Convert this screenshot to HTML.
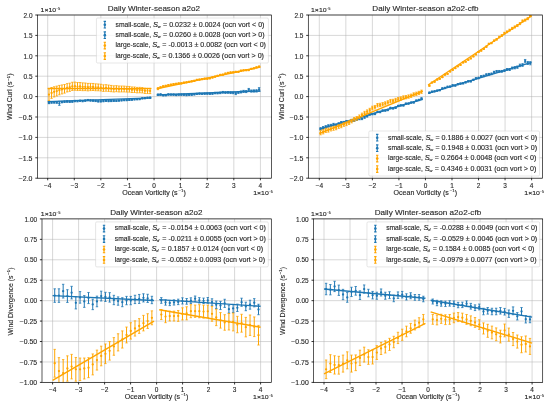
<!DOCTYPE html><html><head><meta charset="utf-8"><style>html,body{margin:0;padding:0;background:#fff;overflow:hidden}svg{display:block}text{font-family:"Liberation Sans", sans-serif;stroke:#262626;stroke-width:0.12;paint-order:stroke}</style></head><body>
<svg width="550" height="406" viewBox="0 0 550 406">
<defs><filter id="bl" x="0" y="0" width="1" height="1"><feGaussianBlur stdDeviation="0.35"/></filter></defs>
<rect width="550" height="406" fill="#fff"/>
<g filter="url(#bl)">
<clipPath id="c1"><rect x="37.4" y="15" width="234" height="163.2"/></clipPath>
<path d="M47.69 15V178.2M74.28 15V178.2M100.87 15V178.2M127.46 15V178.2M154.05 15V178.2M180.64 15V178.2M207.23 15V178.2M233.82 15V178.2M260.41 15V178.2M37.4 15H271.4M37.4 35.4H271.4M37.4 55.8H271.4M37.4 76.2H271.4M37.4 96.6H271.4M37.4 117H271.4M37.4 137.4H271.4M37.4 157.8H271.4M37.4 178.2H271.4" stroke="#b0b0b0" stroke-width="0.5" fill="none"/>
<g clip-path="url(#c1)">
<path d="M48.98 102.07V103.7M51.57 101.6V103.23M54.16 101.52V103.16M56.76 101.65V103.28M59.35 101.29V105.37M61.94 101.25V102.8M64.53 101V102.5M67.13 100.78V102.25M69.72 100.97V102.44M72.31 100.85V102.32M74.9 100.31V101.78M77.5 100.38V101.83M80.09 100.09V101.52M82.68 100.34V101.74M85.27 99.96V101.35M87.87 99.45V100.84M90.46 99.77V101.15M93.05 99.94V101.33M95.65 100.2V101.58M98.24 100.64V102M100.83 100.65V101.99M103.42 100.41V101.73M106.02 100.19V101.5M108.61 100.35V101.65M111.2 100.31V101.62M113.79 100.1V101.4M116.39 100.17V101.48M118.98 99.92V101.21M121.57 99.67V100.93M124.16 99.49V100.74M126.76 99.46V100.69M129.35 99.27V100.49M131.94 99.06V100.29M134.53 98.73V99.95M137.13 98.6V99.82M139.72 98.46V99.69M142.31 97.75V98.97M144.9 97.56V98.79M147.5 97.2V98.43M150.09 97.11V98.34" stroke="#1f77b4" stroke-width="1.0" fill="none"/>
<path d="M47.78 102.07H50.18M47.78 103.7H50.18M50.37 101.6H52.77M50.37 103.23H52.77M52.96 101.52H55.36M52.96 103.16H55.36M55.56 101.65H57.96M55.56 103.28H57.96M58.15 101.29H60.55M58.15 105.37H60.55M60.74 101.25H63.14M60.74 102.8H63.14M63.33 101H65.73M63.33 102.5H65.73M65.93 100.78H68.33M65.93 102.25H68.33M68.52 100.97H70.92M68.52 102.44H70.92M71.11 100.85H73.51M71.11 102.32H73.51M73.7 100.31H76.1M73.7 101.78H76.1M76.3 100.38H78.7M76.3 101.83H78.7M78.89 100.09H81.29M78.89 101.52H81.29M81.48 100.34H83.88M81.48 101.74H83.88M84.07 99.96H86.47M84.07 101.35H86.47M86.67 99.45H89.07M86.67 100.84H89.07M89.26 99.77H91.66M89.26 101.15H91.66M91.85 99.94H94.25M91.85 101.33H94.25M94.45 100.2H96.85M94.45 101.58H96.85M97.04 100.64H99.44M97.04 102H99.44M99.63 100.65H102.03M99.63 101.99H102.03M102.22 100.41H104.62M102.22 101.73H104.62M104.82 100.19H107.22M104.82 101.5H107.22M107.41 100.35H109.81M107.41 101.65H109.81M110 100.31H112.4M110 101.62H112.4M112.59 100.1H114.99M112.59 101.4H114.99M115.19 100.17H117.59M115.19 101.48H117.59M117.78 99.92H120.18M117.78 101.21H120.18M120.37 99.67H122.77M120.37 100.93H122.77M122.96 99.49H125.36M122.96 100.74H125.36M125.56 99.46H127.96M125.56 100.69H127.96M128.15 99.27H130.55M128.15 100.49H130.55M130.74 99.06H133.14M130.74 100.29H133.14M133.33 98.73H135.73M133.33 99.95H135.73M135.93 98.6H138.33M135.93 99.82H138.33M138.52 98.46H140.92M138.52 99.69H140.92M141.11 97.75H143.51M141.11 98.97H143.51M143.7 97.56H146.1M143.7 98.79H146.1M146.3 97.2H148.7M146.3 98.43H148.7M148.89 97.11H151.29M148.89 98.34H151.29" stroke="#1f77b4" stroke-width="0.8" fill="none"/>
<path d="M48.98 102.89h0M51.57 102.42h0M54.16 102.34h0M56.76 102.47h0M59.35 103.33h0M61.94 102.03h0M64.53 101.75h0M67.13 101.51h0M69.72 101.7h0M72.31 101.59h0M74.9 101.04h0M77.5 101.1h0M80.09 100.8h0M82.68 101.04h0M85.27 100.66h0M87.87 100.15h0M90.46 100.46h0M93.05 100.63h0M95.65 100.89h0M98.24 101.32h0M100.83 101.32h0M103.42 101.07h0M106.02 100.84h0M108.61 101h0M111.2 100.97h0M113.79 100.75h0M116.39 100.82h0M118.98 100.57h0M121.57 100.3h0M124.16 100.11h0M126.76 100.08h0M129.35 99.88h0M131.94 99.67h0M134.53 99.34h0M137.13 99.21h0M139.72 99.08h0M142.31 98.36h0M144.9 98.18h0M147.5 97.82h0M150.09 97.73h0" stroke="#1f77b4" stroke-width="2.3" stroke-linecap="round" fill="none"/>
<path d="M47.69 101.61L151.39 97.92" stroke="#1f77b4" stroke-width="1.4" fill="none"/>
<path d="M158.01 94.07V95.29M160.6 93.9V95.13M163.2 94.63V95.85M165.79 94.6V95.82M168.38 93.86V95.09M170.97 93.96V95.19M173.57 94.03V95.25M176.16 94.38V95.6M178.75 94.09V95.31M181.34 94.09V95.31M183.94 94.11V95.34M186.53 94.48V95.7M189.12 94.14V95.37M191.71 94.11V95.34M194.31 93.72V94.94M196.9 93.27V94.52M199.49 93.04V94.32M202.08 93.15V94.47M204.68 92.97V94.33M207.27 92.9V94.3M209.86 92.98V94.43M212.45 92.84V94.33M215.05 92.26V93.8M217.64 92.25V93.83M220.23 92.04V93.67M222.83 91.44V93.1M225.42 91.7V93.39M228.01 91.57V93.3M230.6 91.8V93.55M233.2 91.91V93.7M235.79 92.19V94.64M238.38 91.52V93.4M240.97 91.01V92.94M243.57 90.39V92.37M246.16 90.57V92.59M248.75 88.44V90.89M251.34 89.97V92.14M253.94 89.87V92.12M256.53 89.73V92.06M259.12 87.62V91.3" stroke="#1f77b4" stroke-width="1.0" fill="none"/>
<path d="M156.81 94.07H159.21M156.81 95.29H159.21M159.4 93.9H161.8M159.4 95.13H161.8M162 94.63H164.4M162 95.85H164.4M164.59 94.6H166.99M164.59 95.82H166.99M167.18 93.86H169.58M167.18 95.09H169.58M169.77 93.96H172.17M169.77 95.19H172.17M172.37 94.03H174.77M172.37 95.25H174.77M174.96 94.38H177.36M174.96 95.6H177.36M177.55 94.09H179.95M177.55 95.31H179.95M180.14 94.09H182.54M180.14 95.31H182.54M182.74 94.11H185.14M182.74 95.34H185.14M185.33 94.48H187.73M185.33 95.7H187.73M187.92 94.14H190.32M187.92 95.37H190.32M190.51 94.11H192.91M190.51 95.34H192.91M193.11 93.72H195.51M193.11 94.94H195.51M195.7 93.27H198.1M195.7 94.52H198.1M198.29 93.04H200.69M198.29 94.32H200.69M200.88 93.15H203.28M200.88 94.47H203.28M203.48 92.97H205.88M203.48 94.33H205.88M206.07 92.9H208.47M206.07 94.3H208.47M208.66 92.98H211.06M208.66 94.43H211.06M211.25 92.84H213.65M211.25 94.33H213.65M213.85 92.26H216.25M213.85 93.8H216.25M216.44 92.25H218.84M216.44 93.83H218.84M219.03 92.04H221.43M219.03 93.67H221.43M221.63 91.44H224.03M221.63 93.1H224.03M224.22 91.7H226.62M224.22 93.39H226.62M226.81 91.57H229.21M226.81 93.3H229.21M229.4 91.8H231.8M229.4 93.55H231.8M232 91.91H234.4M232 93.7H234.4M234.59 92.19H236.99M234.59 94.64H236.99M237.18 91.52H239.58M237.18 93.4H239.58M239.77 91.01H242.17M239.77 92.94H242.17M242.37 90.39H244.77M242.37 92.37H244.77M244.96 90.57H247.36M244.96 92.59H247.36M247.55 88.44H249.95M247.55 90.89H249.95M250.14 89.97H252.54M250.14 92.14H252.54M252.74 89.87H255.14M252.74 92.12H255.14M255.33 89.73H257.73M255.33 92.06H257.73M257.92 87.62H260.32M257.92 91.3H260.32" stroke="#1f77b4" stroke-width="0.8" fill="none"/>
<path d="M158.01 94.68h0M160.6 94.51h0M163.2 95.24h0M165.79 95.21h0M168.38 94.48h0M170.97 94.57h0M173.57 94.64h0M176.16 94.99h0M178.75 94.7h0M181.34 94.7h0M183.94 94.73h0M186.53 95.09h0M189.12 94.75h0M191.71 94.72h0M194.31 94.33h0M196.9 93.9h0M199.49 93.68h0M202.08 93.81h0M204.68 93.65h0M207.27 93.6h0M209.86 93.7h0M212.45 93.58h0M215.05 93.03h0M217.64 93.04h0M220.23 92.86h0M222.83 92.27h0M225.42 92.55h0M228.01 92.44h0M230.6 92.67h0M233.2 92.8h0M235.79 93.42h0M238.38 92.46h0M240.97 91.98h0M243.57 91.38h0M246.16 91.58h0M248.75 89.66h0M251.34 91.06h0M253.94 90.99h0M256.53 90.9h0M259.12 89.46h0" stroke="#1f77b4" stroke-width="2.3" stroke-linecap="round" fill="none"/>
<path d="M156.71 95.07L260.41 90.93" stroke="#1f77b4" stroke-width="1.4" fill="none"/>
<path d="M48.98 88.61V100.51M51.57 87.49V98.35M54.16 86.78V96.94M56.76 86.11V95.98M59.35 85.41V94.85M61.94 84.95V93.91M64.53 84.5V93.14M67.13 83.62V91.94M69.72 83.17V91.33M72.31 82.26V90.42M74.9 82.08V90.24M77.5 82.52V90.56M80.09 82.52V90.44M82.68 82.88V90.67M85.27 82.99V90.62M87.87 83.42V90.86M90.46 83.38V90.62M93.05 83.46V90.5M95.65 83.84V90.74M98.24 83.98V90.78M100.83 84.26V90.96M103.42 84.8V91.4M106.02 84.7V91.2M108.61 85.04V91.42M111.2 85.43V91.7M113.79 85.82V91.97M116.39 85.66V91.69M118.98 86V91.96M121.57 86.03V91.91M124.16 86.1V91.91M126.76 86.34V92.07M129.35 86.45V92.11M131.94 86.95V92.53M134.53 87V92.5M137.13 87.41V92.84M139.72 87.36V92.75M142.31 87.53V92.91M144.9 88.05V93.44M147.5 88.17V93.56M150.09 88.21V93.6" stroke="#ffa500" stroke-width="1.0" fill="none"/>
<path d="M47.78 88.61H50.18M47.78 100.51H50.18M50.37 87.49H52.77M50.37 98.35H52.77M52.96 86.78H55.36M52.96 96.94H55.36M55.56 86.11H57.96M55.56 95.98H57.96M58.15 85.41H60.55M58.15 94.85H60.55M60.74 84.95H63.14M60.74 93.91H63.14M63.33 84.5H65.73M63.33 93.14H65.73M65.93 83.62H68.33M65.93 91.94H68.33M68.52 83.17H70.92M68.52 91.33H70.92M71.11 82.26H73.51M71.11 90.42H73.51M73.7 82.08H76.1M73.7 90.24H76.1M76.3 82.52H78.7M76.3 90.56H78.7M78.89 82.52H81.29M78.89 90.44H81.29M81.48 82.88H83.88M81.48 90.67H83.88M84.07 82.99H86.47M84.07 90.62H86.47M86.67 83.42H89.07M86.67 90.86H89.07M89.26 83.38H91.66M89.26 90.62H91.66M91.85 83.46H94.25M91.85 90.5H94.25M94.45 83.84H96.85M94.45 90.74H96.85M97.04 83.98H99.44M97.04 90.78H99.44M99.63 84.26H102.03M99.63 90.96H102.03M102.22 84.8H104.62M102.22 91.4H104.62M104.82 84.7H107.22M104.82 91.2H107.22M107.41 85.04H109.81M107.41 91.42H109.81M110 85.43H112.4M110 91.7H112.4M112.59 85.82H114.99M112.59 91.97H114.99M115.19 85.66H117.59M115.19 91.69H117.59M117.78 86H120.18M117.78 91.96H120.18M120.37 86.03H122.77M120.37 91.91H122.77M122.96 86.1H125.36M122.96 91.91H125.36M125.56 86.34H127.96M125.56 92.07H127.96M128.15 86.45H130.55M128.15 92.11H130.55M130.74 86.95H133.14M130.74 92.53H133.14M133.33 87H135.73M133.33 92.5H135.73M135.93 87.41H138.33M135.93 92.84H138.33M138.52 87.36H140.92M138.52 92.75H140.92M141.11 87.53H143.51M141.11 92.91H143.51M143.7 88.05H146.1M143.7 93.44H146.1M146.3 88.17H148.7M146.3 93.56H148.7M148.89 88.21H151.29M148.89 93.6H151.29" stroke="#ffa500" stroke-width="0.8" fill="none"/>
<path d="M48.98 94.56h0M51.57 92.92h0M54.16 91.86h0M56.76 91.05h0M59.35 90.13h0M61.94 89.43h0M64.53 88.82h0M67.13 87.78h0M69.72 87.25h0M72.31 86.34h0M74.9 86.16h0M77.5 86.54h0M80.09 86.48h0M82.68 86.78h0M85.27 86.8h0M87.87 87.14h0M90.46 87h0M93.05 86.98h0M95.65 87.29h0M98.24 87.38h0M100.83 87.61h0M103.42 88.1h0M106.02 87.95h0M108.61 88.23h0M111.2 88.56h0M113.79 88.89h0M116.39 88.67h0M118.98 88.98h0M121.57 88.97h0M124.16 89.01h0M126.76 89.2h0M129.35 89.28h0M131.94 89.74h0M134.53 89.75h0M137.13 90.12h0M139.72 90.05h0M142.31 90.22h0M144.9 90.74h0M147.5 90.86h0M150.09 90.9h0" stroke="#ffa500" stroke-width="2.3" stroke-linecap="round" fill="none"/>
<path d="M47.69 88.43L151.39 88.64" stroke="#ffa500" stroke-width="1.4" fill="none"/>
<path d="M158.01 87.65V89.66M160.6 86.73V87.84M163.2 85.76V86.83M165.79 85.29V86.35M168.38 84.74V85.8M170.97 84.22V85.28M173.57 83.58V84.64M176.16 83.26V84.32M178.75 82.89V83.95M181.34 82.77V83.84M183.94 82.1V83.16M186.53 81.75V82.81M189.12 81.28V82.34M191.71 80.81V81.87M194.31 80.25V81.31M196.9 79.35V80.41M199.49 79.04V80.1M202.08 78.65V79.71M204.68 78.22V79.28M207.27 78.21V79.28M209.86 77.82V78.88M212.45 76.97V78.03M215.05 76.16V77.22M217.64 75.28V76.34M220.23 74.43V75.49M222.83 74.16V75.23M225.42 73.09V74.15M228.01 72.39V73.45M230.6 71.96V73.02M233.2 71.76V72.82M235.79 71.34V72.4M238.38 71.29V72.35M240.97 70.2V71.26M243.57 69.75V70.81M246.16 69.68V70.74M248.75 69.55V70.61M251.34 68.35V69.45M253.94 67.78V68.92M256.53 66.8V67.94M259.12 66.04V67.18" stroke="#ffa500" stroke-width="1.0" fill="none"/>
<path d="M156.81 87.65H159.21M156.81 89.66H159.21M159.4 86.73H161.8M159.4 87.84H161.8M162 85.76H164.4M162 86.83H164.4M164.59 85.29H166.99M164.59 86.35H166.99M167.18 84.74H169.58M167.18 85.8H169.58M169.77 84.22H172.17M169.77 85.28H172.17M172.37 83.58H174.77M172.37 84.64H174.77M174.96 83.26H177.36M174.96 84.32H177.36M177.55 82.89H179.95M177.55 83.95H179.95M180.14 82.77H182.54M180.14 83.84H182.54M182.74 82.1H185.14M182.74 83.16H185.14M185.33 81.75H187.73M185.33 82.81H187.73M187.92 81.28H190.32M187.92 82.34H190.32M190.51 80.81H192.91M190.51 81.87H192.91M193.11 80.25H195.51M193.11 81.31H195.51M195.7 79.35H198.1M195.7 80.41H198.1M198.29 79.04H200.69M198.29 80.1H200.69M200.88 78.65H203.28M200.88 79.71H203.28M203.48 78.22H205.88M203.48 79.28H205.88M206.07 78.21H208.47M206.07 79.28H208.47M208.66 77.82H211.06M208.66 78.88H211.06M211.25 76.97H213.65M211.25 78.03H213.65M213.85 76.16H216.25M213.85 77.22H216.25M216.44 75.28H218.84M216.44 76.34H218.84M219.03 74.43H221.43M219.03 75.49H221.43M221.63 74.16H224.03M221.63 75.23H224.03M224.22 73.09H226.62M224.22 74.15H226.62M226.81 72.39H229.21M226.81 73.45H229.21M229.4 71.96H231.8M229.4 73.02H231.8M232 71.76H234.4M232 72.82H234.4M234.59 71.34H236.99M234.59 72.4H236.99M237.18 71.29H239.58M237.18 72.35H239.58M239.77 70.2H242.17M239.77 71.26H242.17M242.37 69.75H244.77M242.37 70.81H244.77M244.96 69.68H247.36M244.96 70.74H247.36M247.55 69.55H249.95M247.55 70.61H249.95M250.14 68.35H252.54M250.14 69.45H252.54M252.74 67.78H255.14M252.74 68.92H255.14M255.33 66.8H257.73M255.33 67.94H257.73M257.92 66.04H260.32M257.92 67.18H260.32" stroke="#ffa500" stroke-width="0.8" fill="none"/>
<path d="M158.01 88.65h0M160.6 87.29h0M163.2 86.29h0M165.79 85.82h0M168.38 85.27h0M170.97 84.75h0M173.57 84.11h0M176.16 83.79h0M178.75 83.42h0M181.34 83.31h0M183.94 82.63h0M186.53 82.28h0M189.12 81.81h0M191.71 81.34h0M194.31 80.78h0M196.9 79.88h0M199.49 79.57h0M202.08 79.18h0M204.68 78.75h0M207.27 78.75h0M209.86 78.35h0M212.45 77.5h0M215.05 76.69h0M217.64 75.81h0M220.23 74.96h0M222.83 74.7h0M225.42 73.62h0M228.01 72.92h0M230.6 72.49h0M233.2 72.29h0M235.79 71.87h0M238.38 71.82h0M240.97 70.73h0M243.57 70.28h0M246.16 70.21h0M248.75 70.08h0M251.34 68.9h0M253.94 68.35h0M256.53 67.37h0M259.12 66.61h0" stroke="#ffa500" stroke-width="2.3" stroke-linecap="round" fill="none"/>
<path d="M156.71 88.7L260.41 66.96" stroke="#ffa500" stroke-width="1.4" fill="none"/>
</g>
<rect x="37.4" y="15" width="234" height="163.2" fill="none" stroke="#000" stroke-width="0.65"/>
<path d="M47.69 178.2v2.1M74.28 178.2v2.1M100.87 178.2v2.1M127.46 178.2v2.1M154.05 178.2v2.1M180.64 178.2v2.1M207.23 178.2v2.1M233.82 178.2v2.1M260.41 178.2v2.1M37.4 15h-2.1M37.4 35.4h-2.1M37.4 55.8h-2.1M37.4 76.2h-2.1M37.4 96.6h-2.1M37.4 117h-2.1M37.4 137.4h-2.1M37.4 157.8h-2.1M37.4 178.2h-2.1" stroke="#000" stroke-width="0.8" fill="none"/>
<text x="47.79" y="188.2" font-size="6.6" text-anchor="middle" fill="#262626" textLength="7.51" lengthAdjust="spacingAndGlyphs" >−4</text>
<text x="74.38" y="188.2" font-size="6.6" text-anchor="middle" fill="#262626" textLength="7.51" lengthAdjust="spacingAndGlyphs" >−3</text>
<text x="100.97" y="188.2" font-size="6.6" text-anchor="middle" fill="#262626" textLength="7.51" lengthAdjust="spacingAndGlyphs" >−2</text>
<text x="127.56" y="188.2" font-size="6.6" text-anchor="middle" fill="#262626" textLength="7.51" lengthAdjust="spacingAndGlyphs" >−1</text>
<text x="154.05" y="188.2" font-size="6.6" text-anchor="middle" fill="#262626" textLength="3.6" lengthAdjust="spacingAndGlyphs" >0</text>
<text x="180.64" y="188.2" font-size="6.6" text-anchor="middle" fill="#262626" textLength="3.6" lengthAdjust="spacingAndGlyphs" >1</text>
<text x="207.23" y="188.2" font-size="6.6" text-anchor="middle" fill="#262626" textLength="3.6" lengthAdjust="spacingAndGlyphs" >2</text>
<text x="233.82" y="188.2" font-size="6.6" text-anchor="middle" fill="#262626" textLength="3.6" lengthAdjust="spacingAndGlyphs" >3</text>
<text x="260.41" y="188.2" font-size="6.6" text-anchor="middle" fill="#262626" textLength="3.6" lengthAdjust="spacingAndGlyphs" >4</text>
<text x="32.5" y="17.7" font-size="6.6" text-anchor="end" fill="#262626" textLength="9" lengthAdjust="spacingAndGlyphs" >2.0</text>
<text x="32.5" y="38.1" font-size="6.6" text-anchor="end" fill="#262626" textLength="9" lengthAdjust="spacingAndGlyphs" >1.5</text>
<text x="32.5" y="58.5" font-size="6.6" text-anchor="end" fill="#262626" textLength="9" lengthAdjust="spacingAndGlyphs" >1.0</text>
<text x="32.5" y="78.9" font-size="6.6" text-anchor="end" fill="#262626" textLength="9" lengthAdjust="spacingAndGlyphs" >0.5</text>
<text x="32.5" y="99.3" font-size="6.6" text-anchor="end" fill="#262626" textLength="9" lengthAdjust="spacingAndGlyphs" >0.0</text>
<text x="32.5" y="119.7" font-size="6.6" text-anchor="end" fill="#262626" textLength="13.75" lengthAdjust="spacingAndGlyphs" >−0.5</text>
<text x="32.5" y="140.1" font-size="6.6" text-anchor="end" fill="#262626" textLength="13.75" lengthAdjust="spacingAndGlyphs" >−1.0</text>
<text x="32.5" y="160.5" font-size="6.6" text-anchor="end" fill="#262626" textLength="13.75" lengthAdjust="spacingAndGlyphs" >−1.5</text>
<text x="32.5" y="180.9" font-size="6.6" text-anchor="end" fill="#262626" textLength="13.75" lengthAdjust="spacingAndGlyphs" >−2.0</text>
<text x="40.6" y="12" font-size="6.0" text-anchor="start" fill="#262626" textLength="19.5" lengthAdjust="spacingAndGlyphs" >1×10<tspan font-size="50%" dy="-2.3">−5</tspan></text>
<text x="272.7" y="195.2" font-size="6.0" text-anchor="end" fill="#262626" textLength="19.5" lengthAdjust="spacingAndGlyphs" >1×10<tspan font-size="50%" dy="-2.3">−5</tspan></text>
<text x="153.9" y="11" font-size="7.6" text-anchor="middle" fill="#262626" textLength="92.3" lengthAdjust="spacingAndGlyphs" >Daily Winter-season a2o2</text>
<text x="154" y="194.7" font-size="6.8" text-anchor="middle" fill="#262626" textLength="63.5" lengthAdjust="spacingAndGlyphs" >Ocean Vorticity (s<tspan font-size="62%" dy="-2.8"> −1</tspan><tspan dy="2.8">)</tspan></text>
<text x="12.3" y="96.8" font-size="6.8" text-anchor="middle" fill="#262626" textLength="46.6" lengthAdjust="spacingAndGlyphs" transform="rotate(-90 12.3 96.8)" >Wind Curl (s<tspan font-size="62%" dy="-2.8"> −1</tspan><tspan dy="2.8">)</tspan></text>
<rect x="96.42" y="18" width="171.98" height="45" rx="1.2" fill="#fff" fill-opacity="0.8" stroke="#cccccc" stroke-width="0.5"/>
<path d="M104.82 21.4V28M103.62 21.4H106.02M103.62 28H106.02" stroke="#1f77b4" stroke-width="1.1" fill="none"/>
<circle cx="104.82" cy="24.7" r="1.3" fill="#1f77b4"/>
<text x="115.62" y="26.5" font-size="6.5" text-anchor="start" fill="#262626" textLength="35.51" lengthAdjust="spacingAndGlyphs" >small-scale,</text>
<text x="153.02" y="26.5" font-size="6.5" fill="#262626" font-style="italic" textLength="5.04" lengthAdjust="spacingAndGlyphs">S</text>
<text x="157.74" y="27.5" font-size="4.03" fill="#262626" font-style="italic">w</text>
<text x="163.05" y="26.5" font-size="6.5" text-anchor="start" fill="#262626" textLength="101.43" lengthAdjust="spacingAndGlyphs" >= 0.0232 ± 0.0024 (ocn vort &lt; 0)</text>
<path d="M104.82 31.85V38.45M103.62 31.85H106.02M103.62 38.45H106.02" stroke="#1f77b4" stroke-width="1.1" fill="none"/>
<circle cx="104.82" cy="35.15" r="1.3" fill="#1f77b4"/>
<text x="115.62" y="36.95" font-size="6.5" text-anchor="start" fill="#262626" textLength="35.51" lengthAdjust="spacingAndGlyphs" >small-scale,</text>
<text x="153.02" y="36.95" font-size="6.5" fill="#262626" font-style="italic" textLength="5.04" lengthAdjust="spacingAndGlyphs">S</text>
<text x="157.74" y="37.95" font-size="4.03" fill="#262626" font-style="italic">w</text>
<text x="163.05" y="36.95" font-size="6.5" text-anchor="start" fill="#262626" textLength="101.54" lengthAdjust="spacingAndGlyphs" >= 0.0260 ± 0.0028 (ocn vort &gt; 0)</text>
<path d="M104.82 42.3V48.9M103.62 42.3H106.02M103.62 48.9H106.02" stroke="#ffa500" stroke-width="1.1" fill="none"/>
<circle cx="104.82" cy="45.6" r="1.3" fill="#ffa500"/>
<text x="115.62" y="47.4" font-size="6.5" text-anchor="start" fill="#262626" textLength="34.8" lengthAdjust="spacingAndGlyphs" >large-scale,</text>
<text x="152.32" y="47.4" font-size="6.5" fill="#262626" font-style="italic" textLength="5.04" lengthAdjust="spacingAndGlyphs">S</text>
<text x="157.04" y="48.4" font-size="4.03" fill="#262626" font-style="italic">w</text>
<text x="162.35" y="47.4" font-size="6.5" text-anchor="start" fill="#262626" textLength="103.65" lengthAdjust="spacingAndGlyphs" >= -0.0013 ± 0.0082 (ocn vort &lt; 0)</text>
<path d="M104.82 52.75V59.35M103.62 52.75H106.02M103.62 59.35H106.02" stroke="#ffa500" stroke-width="1.1" fill="none"/>
<circle cx="104.82" cy="56.05" r="1.3" fill="#ffa500"/>
<text x="115.62" y="57.85" font-size="6.5" text-anchor="start" fill="#262626" textLength="34.8" lengthAdjust="spacingAndGlyphs" >large-scale,</text>
<text x="152.32" y="57.85" font-size="6.5" fill="#262626" font-style="italic" textLength="5.04" lengthAdjust="spacingAndGlyphs">S</text>
<text x="157.04" y="58.85" font-size="4.03" fill="#262626" font-style="italic">w</text>
<text x="162.35" y="57.85" font-size="6.5" text-anchor="start" fill="#262626" textLength="101.65" lengthAdjust="spacingAndGlyphs" >= 0.1366 ± 0.0026 (ocn vort &gt; 0)</text>
<clipPath id="c2"><rect x="308.3" y="15" width="234.2" height="163.2"/></clipPath>
<path d="M319.29 15V178.2M345.83 15V178.2M372.37 15V178.2M398.91 15V178.2M425.45 15V178.2M451.99 15V178.2M478.53 15V178.2M505.07 15V178.2M531.61 15V178.2M308.3 15H542.5M308.3 35.4H542.5M308.3 55.8H542.5M308.3 76.2H542.5M308.3 96.6H542.5M308.3 117H542.5M308.3 137.4H542.5M308.3 157.8H542.5M308.3 178.2H542.5" stroke="#b0b0b0" stroke-width="0.5" fill="none"/>
<g clip-path="url(#c2)">
<path d="M320.58 127.58V130.03M323.16 126.54V128.99M325.75 125.6V128.05M328.34 124.71V126.98M330.93 124.34V126.42M333.52 123.38V125.33M336.1 123.99V125.83M338.69 122.76V124.5M341.28 121.52V123.2M343.87 121.41V123.04M346.45 120.47V122.1M349.04 121.06V122.69M351.63 119.97V121.6M354.22 119.73V121.36M356.8 118.72V120.35M359.39 118.11V119.74M361.98 118.01V119.64M364.57 116.67V118.25M367.15 115.48V116.99M369.74 113.71V115.18M372.33 113.33V114.8M374.92 113.24V114.68M377.51 111.12V112.5M380.09 111.34V112.69M382.68 109.89V111.2M385.27 109.88V111.19M387.86 109.35V110.66M390.44 107.37V108.67M393.03 107.75V109.02M395.62 107.14V108.38M398.21 105.34V106.57M400.79 104.74V105.96M403.38 104.83V106.05M405.97 103.08V104.3M408.56 102.93V104.16M411.14 101.96V103.19M413.73 101.86V103.08M416.32 99.98V101.21M418.91 99.4V100.62M421.5 97.91V99.13" stroke="#1f77b4" stroke-width="1.0" fill="none"/>
<path d="M319.38 127.58H321.78M319.38 130.03H321.78M321.96 126.54H324.36M321.96 128.99H324.36M324.55 125.6H326.95M324.55 128.05H326.95M327.14 124.71H329.54M327.14 126.98H329.54M329.73 124.34H332.13M329.73 126.42H332.13M332.32 123.38H334.72M332.32 125.33H334.72M334.9 123.99H337.3M334.9 125.83H337.3M337.49 122.76H339.89M337.49 124.5H339.89M340.08 121.52H342.48M340.08 123.2H342.48M342.67 121.41H345.07M342.67 123.04H345.07M345.25 120.47H347.65M345.25 122.1H347.65M347.84 121.06H350.24M347.84 122.69H350.24M350.43 119.97H352.83M350.43 121.6H352.83M353.02 119.73H355.42M353.02 121.36H355.42M355.6 118.72H358M355.6 120.35H358M358.19 118.11H360.59M358.19 119.74H360.59M360.78 118.01H363.18M360.78 119.64H363.18M363.37 116.67H365.77M363.37 118.25H365.77M365.95 115.48H368.35M365.95 116.99H368.35M368.54 113.71H370.94M368.54 115.18H370.94M371.13 113.33H373.53M371.13 114.8H373.53M373.72 113.24H376.12M373.72 114.68H376.12M376.31 111.12H378.71M376.31 112.5H378.71M378.89 111.34H381.29M378.89 112.69H381.29M381.48 109.89H383.88M381.48 111.2H383.88M384.07 109.88H386.47M384.07 111.19H386.47M386.66 109.35H389.06M386.66 110.66H389.06M389.24 107.37H391.64M389.24 108.67H391.64M391.83 107.75H394.23M391.83 109.02H394.23M394.42 107.14H396.82M394.42 108.38H396.82M397.01 105.34H399.41M397.01 106.57H399.41M399.59 104.74H401.99M399.59 105.96H401.99M402.18 104.83H404.58M402.18 106.05H404.58M404.77 103.08H407.17M404.77 104.3H407.17M407.36 102.93H409.76M407.36 104.16H409.76M409.94 101.96H412.34M409.94 103.19H412.34M412.53 101.86H414.93M412.53 103.08H414.93M415.12 99.98H417.52M415.12 101.21H417.52M417.71 99.4H420.11M417.71 100.62H420.11M420.3 97.91H422.7M420.3 99.13H422.7" stroke="#1f77b4" stroke-width="0.8" fill="none"/>
<path d="M320.58 128.81h0M323.16 127.77h0M325.75 126.82h0M328.34 125.84h0M330.93 125.38h0M333.52 124.36h0M336.1 124.91h0M338.69 123.63h0M341.28 122.36h0M343.87 122.23h0M346.45 121.29h0M349.04 121.88h0M351.63 120.78h0M354.22 120.54h0M356.8 119.54h0M359.39 118.92h0M361.98 118.83h0M364.57 117.46h0M367.15 116.23h0M369.74 114.44h0M372.33 114.07h0M374.92 113.96h0M377.51 111.81h0M380.09 112.01h0M382.68 110.55h0M385.27 110.54h0M387.86 110h0M390.44 108.02h0M393.03 108.38h0M395.62 107.76h0M398.21 105.95h0M400.79 105.35h0M403.38 105.44h0M405.97 103.69h0M408.56 103.55h0M411.14 102.57h0M413.73 102.47h0M416.32 100.6h0M418.91 100.01h0M421.5 98.52h0" stroke="#1f77b4" stroke-width="2.3" stroke-linecap="round" fill="none"/>
<path d="M319.29 129.26L422.8 99.25" stroke="#1f77b4" stroke-width="1.4" fill="none"/>
<path d="M429.4 92.13V93.35M431.99 91.16V92.38M434.58 90.7V91.92M437.17 90.05V91.27M439.76 89.57V90.8M442.34 87.85V89.07M444.93 87.38V88.61M447.52 86.17V87.42M450.11 85.94V87.22M452.69 84.64V85.94M455.28 84.85V86.15M457.87 83.55V84.86M460.46 82.97V84.29M463.04 82.64V83.99M465.63 81.66V83.05M468.22 80.67V82.06M470.81 80.61V81.99M473.39 79.15V80.55M475.98 77.62V79.05M478.57 77.25V78.72M481.16 75.71V77.18M483.75 75.23V76.7M486.33 73.85V75.4M488.92 73.42V75.05M491.51 73.03V74.66M494.1 71.25V72.88M496.68 70.49V72.13M499.27 70.47V72.15M501.86 70.45V72.18M504.45 69.76V71.54M507.03 68.58V70.43M509.62 68.55V70.48M512.21 67.04V69.05M514.8 66.69V68.82M517.38 66V68.31M519.97 64.14V66.63M522.56 63.67V66.34M525.15 59.47V62.74M527.74 61.47V64.51M530.32 61.58V64.81" stroke="#1f77b4" stroke-width="1.0" fill="none"/>
<path d="M428.2 92.13H430.6M428.2 93.35H430.6M430.79 91.16H433.19M430.79 92.38H433.19M433.38 90.7H435.78M433.38 91.92H435.78M435.97 90.05H438.37M435.97 91.27H438.37M438.56 89.57H440.96M438.56 90.8H440.96M441.14 87.85H443.54M441.14 89.07H443.54M443.73 87.38H446.13M443.73 88.61H446.13M446.32 86.17H448.72M446.32 87.42H448.72M448.91 85.94H451.31M448.91 87.22H451.31M451.49 84.64H453.89M451.49 85.94H453.89M454.08 84.85H456.48M454.08 86.15H456.48M456.67 83.55H459.07M456.67 84.86H459.07M459.26 82.97H461.66M459.26 84.29H461.66M461.84 82.64H464.24M461.84 83.99H464.24M464.43 81.66H466.83M464.43 83.05H466.83M467.02 80.67H469.42M467.02 82.06H469.42M469.61 80.61H472.01M469.61 81.99H472.01M472.19 79.15H474.59M472.19 80.55H474.59M474.78 77.62H477.18M474.78 79.05H477.18M477.37 77.25H479.77M477.37 78.72H479.77M479.96 75.71H482.36M479.96 77.18H482.36M482.55 75.23H484.95M482.55 76.7H484.95M485.13 73.85H487.53M485.13 75.4H487.53M487.72 73.42H490.12M487.72 75.05H490.12M490.31 73.03H492.71M490.31 74.66H492.71M492.9 71.25H495.3M492.9 72.88H495.3M495.48 70.49H497.88M495.48 72.13H497.88M498.07 70.47H500.47M498.07 72.15H500.47M500.66 70.45H503.06M500.66 72.18H503.06M503.25 69.76H505.65M503.25 71.54H505.65M505.83 68.58H508.23M505.83 70.43H508.23M508.42 68.55H510.82M508.42 70.48H510.82M511.01 67.04H513.41M511.01 69.05H513.41M513.6 66.69H516M513.6 68.82H516M516.18 66H518.58M516.18 68.31H518.58M518.77 64.14H521.17M518.77 66.63H521.17M521.36 63.67H523.76M521.36 66.34H523.76M523.95 59.47H526.35M523.95 62.74H526.35M526.54 61.47H528.94M526.54 64.51H528.94M529.12 61.58H531.52M529.12 64.81H531.52" stroke="#1f77b4" stroke-width="0.8" fill="none"/>
<path d="M429.4 92.74h0M431.99 91.77h0M434.58 91.31h0M437.17 90.66h0M439.76 90.18h0M442.34 88.46h0M444.93 87.99h0M447.52 86.79h0M450.11 86.58h0M452.69 85.29h0M455.28 85.5h0M457.87 84.2h0M460.46 83.63h0M463.04 83.32h0M465.63 82.35h0M468.22 81.36h0M470.81 81.3h0M473.39 79.85h0M475.98 78.34h0M478.57 77.99h0M481.16 76.45h0M483.75 75.96h0M486.33 74.63h0M488.92 74.24h0M491.51 73.85h0M494.1 72.06h0M496.68 71.31h0M499.27 71.31h0M501.86 71.31h0M504.45 70.65h0M507.03 69.5h0M509.62 69.51h0M512.21 68.05h0M514.8 67.76h0M517.38 67.15h0M519.97 65.39h0M522.56 65.01h0M525.15 61.1h0M527.74 62.99h0M530.32 63.19h0" stroke="#1f77b4" stroke-width="2.3" stroke-linecap="round" fill="none"/>
<path d="M428.1 93.36L531.61 62.36" stroke="#1f77b4" stroke-width="1.4" fill="none"/>
<path d="M320.58 130.35V134.79M323.16 129.63V133.9M325.75 128.36V132.45M328.34 128.1V132.11M330.93 127V130.94M333.52 126.42V130.28M336.1 125.95V129.74M338.69 124.68V128.41M341.28 124.04V127.73M343.87 122.68V126.35M346.45 121.94V125.61M349.04 120.79V124.46M351.63 119.19V122.86M354.22 117.5V121.18M356.8 116.56V120.23M359.39 114.97V118.64M361.98 113.12V116.79M364.57 111.34V115.02M367.15 109.91V113.59M369.74 108.3V111.97M372.33 106.26V109.84M374.92 105.46V108.95M377.51 103.52V106.93M380.09 103.25V106.6M382.68 102.64V105.92M385.27 101.81V105.07M387.86 100.74V104.01M390.44 99.45V102.71M393.03 99.31V102.57M395.62 98.33V101.59M398.21 97.53V100.79M400.79 96.87V100.13M403.38 95.86V99.12M405.97 95.56V98.82M408.56 94.92V98.18M411.14 94.13V97.39M413.73 92.85V96.11M416.32 92.17V95.43M418.91 91.32V94.59M421.5 90.13V93.39" stroke="#ffa500" stroke-width="1.0" fill="none"/>
<path d="M319.38 130.35H321.78M319.38 134.79H321.78M321.96 129.63H324.36M321.96 133.9H324.36M324.55 128.36H326.95M324.55 132.45H326.95M327.14 128.1H329.54M327.14 132.11H329.54M329.73 127H332.13M329.73 130.94H332.13M332.32 126.42H334.72M332.32 130.28H334.72M334.9 125.95H337.3M334.9 129.74H337.3M337.49 124.68H339.89M337.49 128.41H339.89M340.08 124.04H342.48M340.08 127.73H342.48M342.67 122.68H345.07M342.67 126.35H345.07M345.25 121.94H347.65M345.25 125.61H347.65M347.84 120.79H350.24M347.84 124.46H350.24M350.43 119.19H352.83M350.43 122.86H352.83M353.02 117.5H355.42M353.02 121.18H355.42M355.6 116.56H358M355.6 120.23H358M358.19 114.97H360.59M358.19 118.64H360.59M360.78 113.12H363.18M360.78 116.79H363.18M363.37 111.34H365.77M363.37 115.02H365.77M365.95 109.91H368.35M365.95 113.59H368.35M368.54 108.3H370.94M368.54 111.97H370.94M371.13 106.26H373.53M371.13 109.84H373.53M373.72 105.46H376.12M373.72 108.95H376.12M376.31 103.52H378.71M376.31 106.93H378.71M378.89 103.25H381.29M378.89 106.6H381.29M381.48 102.64H383.88M381.48 105.92H383.88M384.07 101.81H386.47M384.07 105.07H386.47M386.66 100.74H389.06M386.66 104.01H389.06M389.24 99.45H391.64M389.24 102.71H391.64M391.83 99.31H394.23M391.83 102.57H394.23M394.42 98.33H396.82M394.42 101.59H396.82M397.01 97.53H399.41M397.01 100.79H399.41M399.59 96.87H401.99M399.59 100.13H401.99M402.18 95.86H404.58M402.18 99.12H404.58M404.77 95.56H407.17M404.77 98.82H407.17M407.36 94.92H409.76M407.36 98.18H409.76M409.94 94.13H412.34M409.94 97.39H412.34M412.53 92.85H414.93M412.53 96.11H414.93M415.12 92.17H417.52M415.12 95.43H417.52M417.71 91.32H420.11M417.71 94.59H420.11M420.3 90.13H422.7M420.3 93.39H422.7" stroke="#ffa500" stroke-width="0.8" fill="none"/>
<path d="M320.58 132.57h0M323.16 131.76h0M325.75 130.4h0M328.34 130.11h0M330.93 128.97h0M333.52 128.35h0M336.1 127.84h0M338.69 126.54h0M341.28 125.88h0M343.87 124.52h0M346.45 123.77h0M349.04 122.62h0M351.63 121.03h0M354.22 119.34h0M356.8 118.4h0M359.39 116.8h0M361.98 114.96h0M364.57 113.18h0M367.15 111.75h0M369.74 110.13h0M372.33 108.05h0M374.92 107.2h0M377.51 105.22h0M380.09 104.92h0M382.68 104.28h0M385.27 103.44h0M387.86 102.38h0M390.44 101.08h0M393.03 100.94h0M395.62 99.96h0M398.21 99.16h0M400.79 98.5h0M403.38 97.49h0M405.97 97.19h0M408.56 96.55h0M411.14 95.76h0M413.73 94.48h0M416.32 93.8h0M418.91 92.95h0M421.5 91.76h0" stroke="#ffa500" stroke-width="2.3" stroke-linecap="round" fill="none"/>
<path d="M319.29 133.55L422.8 91.16" stroke="#ffa500" stroke-width="1.4" fill="none"/>
<path d="M429.4 85.09V86.29M431.99 82.1V83.09M434.58 81.29V82.19M437.17 79.18V80.07M439.76 78.39V79.29M442.34 76.68V77.58M444.93 74.29V75.19M447.52 73.41V74.31M450.11 71.09V71.98M452.69 69.48V70.37M455.28 67.69V68.59M457.87 65.86V66.75M460.46 64.47V65.37M463.04 62.06V62.96M465.63 61.22V62.12M468.22 59.39V60.28M470.81 57.96V58.86M473.39 55.95V56.85M475.98 53.96V54.86M478.57 51.57V52.46M481.16 50.21V51.1M483.75 48.52V49.42M486.33 46.24V47.25M488.92 43.24V44.4M491.51 42.38V43.7M494.1 39.99V41.46M496.68 38.5V40.13M499.27 36.24V37.92M501.86 34.66V36.39M504.45 32.31V34.09M507.03 30.9V32.75M509.62 29.19V31.12M512.21 27.38V29.38M514.8 25.99V28.03M517.38 24.51V26.55M519.97 22.61V24.65M522.56 19.97V22.01M525.15 19.1V21.14M527.74 17.78V19.69M530.32 15.05V16.73" stroke="#ffa500" stroke-width="1.0" fill="none"/>
<path d="M428.2 85.09H430.6M428.2 86.29H430.6M430.79 82.1H433.19M430.79 83.09H433.19M433.38 81.29H435.78M433.38 82.19H435.78M435.97 79.18H438.37M435.97 80.07H438.37M438.56 78.39H440.96M438.56 79.29H440.96M441.14 76.68H443.54M441.14 77.58H443.54M443.73 74.29H446.13M443.73 75.19H446.13M446.32 73.41H448.72M446.32 74.31H448.72M448.91 71.09H451.31M448.91 71.98H451.31M451.49 69.48H453.89M451.49 70.37H453.89M454.08 67.69H456.48M454.08 68.59H456.48M456.67 65.86H459.07M456.67 66.75H459.07M459.26 64.47H461.66M459.26 65.37H461.66M461.84 62.06H464.24M461.84 62.96H464.24M464.43 61.22H466.83M464.43 62.12H466.83M467.02 59.39H469.42M467.02 60.28H469.42M469.61 57.96H472.01M469.61 58.86H472.01M472.19 55.95H474.59M472.19 56.85H474.59M474.78 53.96H477.18M474.78 54.86H477.18M477.37 51.57H479.77M477.37 52.46H479.77M479.96 50.21H482.36M479.96 51.1H482.36M482.55 48.52H484.95M482.55 49.42H484.95M485.13 46.24H487.53M485.13 47.25H487.53M487.72 43.24H490.12M487.72 44.4H490.12M490.31 42.38H492.71M490.31 43.7H492.71M492.9 39.99H495.3M492.9 41.46H495.3M495.48 38.5H497.88M495.48 40.13H497.88M498.07 36.24H500.47M498.07 37.92H500.47M500.66 34.66H503.06M500.66 36.39H503.06M503.25 32.31H505.65M503.25 34.09H505.65M505.83 30.9H508.23M505.83 32.75H508.23M508.42 29.19H510.82M508.42 31.12H510.82M511.01 27.38H513.41M511.01 29.38H513.41M513.6 25.99H516M513.6 28.03H516M516.18 24.51H518.58M516.18 26.55H518.58M518.77 22.61H521.17M518.77 24.65H521.17M521.36 19.97H523.76M521.36 22.01H523.76M523.95 19.1H526.35M523.95 21.14H526.35M526.54 17.78H528.94M526.54 19.69H528.94M529.12 15.05H531.52M529.12 16.73H531.52" stroke="#ffa500" stroke-width="0.8" fill="none"/>
<path d="M429.4 85.69h0M431.99 82.59h0M434.58 81.74h0M437.17 79.63h0M439.76 78.84h0M442.34 77.13h0M444.93 74.74h0M447.52 73.86h0M450.11 71.54h0M452.69 69.93h0M455.28 68.14h0M457.87 66.3h0M460.46 64.92h0M463.04 62.51h0M465.63 61.67h0M468.22 59.83h0M470.81 58.41h0M473.39 56.4h0M475.98 54.41h0M478.57 52.02h0M481.16 50.65h0M483.75 48.97h0M486.33 46.74h0M488.92 43.82h0M491.51 43.04h0M494.1 40.72h0M496.68 39.32h0M499.27 37.08h0M501.86 35.53h0M504.45 33.2h0M507.03 31.82h0M509.62 30.16h0M512.21 28.38h0M514.8 27.01h0M517.38 25.53h0M519.97 23.63h0M522.56 20.99h0M525.15 20.12h0M527.74 18.74h0M530.32 15.89h0" stroke="#ffa500" stroke-width="2.3" stroke-linecap="round" fill="none"/>
<path d="M428.1 85.03L531.61 15.88" stroke="#ffa500" stroke-width="1.4" fill="none"/>
</g>
<rect x="308.3" y="15" width="234.2" height="163.2" fill="none" stroke="#000" stroke-width="0.65"/>
<path d="M319.29 178.2v2.1M345.83 178.2v2.1M372.37 178.2v2.1M398.91 178.2v2.1M425.45 178.2v2.1M451.99 178.2v2.1M478.53 178.2v2.1M505.07 178.2v2.1M531.61 178.2v2.1M308.3 15h-2.1M308.3 35.4h-2.1M308.3 55.8h-2.1M308.3 76.2h-2.1M308.3 96.6h-2.1M308.3 117h-2.1M308.3 137.4h-2.1M308.3 157.8h-2.1M308.3 178.2h-2.1" stroke="#000" stroke-width="0.8" fill="none"/>
<text x="319.39" y="188.2" font-size="6.6" text-anchor="middle" fill="#262626" textLength="7.51" lengthAdjust="spacingAndGlyphs" >−4</text>
<text x="345.93" y="188.2" font-size="6.6" text-anchor="middle" fill="#262626" textLength="7.51" lengthAdjust="spacingAndGlyphs" >−3</text>
<text x="372.47" y="188.2" font-size="6.6" text-anchor="middle" fill="#262626" textLength="7.51" lengthAdjust="spacingAndGlyphs" >−2</text>
<text x="399.01" y="188.2" font-size="6.6" text-anchor="middle" fill="#262626" textLength="7.51" lengthAdjust="spacingAndGlyphs" >−1</text>
<text x="425.45" y="188.2" font-size="6.6" text-anchor="middle" fill="#262626" textLength="3.6" lengthAdjust="spacingAndGlyphs" >0</text>
<text x="451.99" y="188.2" font-size="6.6" text-anchor="middle" fill="#262626" textLength="3.6" lengthAdjust="spacingAndGlyphs" >1</text>
<text x="478.53" y="188.2" font-size="6.6" text-anchor="middle" fill="#262626" textLength="3.6" lengthAdjust="spacingAndGlyphs" >2</text>
<text x="505.07" y="188.2" font-size="6.6" text-anchor="middle" fill="#262626" textLength="3.6" lengthAdjust="spacingAndGlyphs" >3</text>
<text x="531.61" y="188.2" font-size="6.6" text-anchor="middle" fill="#262626" textLength="3.6" lengthAdjust="spacingAndGlyphs" >4</text>
<text x="303.4" y="17.7" font-size="6.6" text-anchor="end" fill="#262626" textLength="9" lengthAdjust="spacingAndGlyphs" >2.0</text>
<text x="303.4" y="38.1" font-size="6.6" text-anchor="end" fill="#262626" textLength="9" lengthAdjust="spacingAndGlyphs" >1.5</text>
<text x="303.4" y="58.5" font-size="6.6" text-anchor="end" fill="#262626" textLength="9" lengthAdjust="spacingAndGlyphs" >1.0</text>
<text x="303.4" y="78.9" font-size="6.6" text-anchor="end" fill="#262626" textLength="9" lengthAdjust="spacingAndGlyphs" >0.5</text>
<text x="303.4" y="99.3" font-size="6.6" text-anchor="end" fill="#262626" textLength="9" lengthAdjust="spacingAndGlyphs" >0.0</text>
<text x="303.4" y="119.7" font-size="6.6" text-anchor="end" fill="#262626" textLength="13.75" lengthAdjust="spacingAndGlyphs" >−0.5</text>
<text x="303.4" y="140.1" font-size="6.6" text-anchor="end" fill="#262626" textLength="13.75" lengthAdjust="spacingAndGlyphs" >−1.0</text>
<text x="303.4" y="160.5" font-size="6.6" text-anchor="end" fill="#262626" textLength="13.75" lengthAdjust="spacingAndGlyphs" >−1.5</text>
<text x="303.4" y="180.9" font-size="6.6" text-anchor="end" fill="#262626" textLength="13.75" lengthAdjust="spacingAndGlyphs" >−2.0</text>
<text x="311" y="12" font-size="6.0" text-anchor="start" fill="#262626" textLength="19.5" lengthAdjust="spacingAndGlyphs" >1×10<tspan font-size="50%" dy="-2.3">−5</tspan></text>
<text x="543.8" y="195.2" font-size="6.0" text-anchor="end" fill="#262626" textLength="19.5" lengthAdjust="spacingAndGlyphs" >1×10<tspan font-size="50%" dy="-2.3">−5</tspan></text>
<text x="425.4" y="11" font-size="7.6" text-anchor="middle" fill="#262626" textLength="106.2" lengthAdjust="spacingAndGlyphs" >Daily Winter-season a2o2-cfb</text>
<text x="425.3" y="194.7" font-size="6.8" text-anchor="middle" fill="#262626" textLength="63.5" lengthAdjust="spacingAndGlyphs" >Ocean Vorticity (s<tspan font-size="62%" dy="-2.8"> −1</tspan><tspan dy="2.8">)</tspan></text>
<text x="284" y="96.7" font-size="6.8" text-anchor="middle" fill="#262626" textLength="46.6" lengthAdjust="spacingAndGlyphs" transform="rotate(-90 284 96.7)" >Wind Curl (s<tspan font-size="62%" dy="-2.8"> −1</tspan><tspan dy="2.8">)</tspan></text>
<rect x="368.82" y="131" width="170.68" height="45" rx="1.2" fill="#fff" fill-opacity="0.8" stroke="#cccccc" stroke-width="0.5"/>
<path d="M377.22 134.4V141M376.02 134.4H378.42M376.02 141H378.42" stroke="#1f77b4" stroke-width="1.1" fill="none"/>
<circle cx="377.22" cy="137.7" r="1.3" fill="#1f77b4"/>
<text x="388.02" y="139.5" font-size="6.5" text-anchor="start" fill="#262626" textLength="35.51" lengthAdjust="spacingAndGlyphs" >small-scale,</text>
<text x="425.42" y="139.5" font-size="6.5" fill="#262626" font-style="italic" textLength="5.04" lengthAdjust="spacingAndGlyphs">S</text>
<text x="430.14" y="140.5" font-size="4.03" fill="#262626" font-style="italic">w</text>
<text x="435.45" y="139.5" font-size="6.5" text-anchor="start" fill="#262626" textLength="101.65" lengthAdjust="spacingAndGlyphs" >= 0.1886 ± 0.0027 (ocn vort &lt; 0)</text>
<path d="M377.22 144.85V151.45M376.02 144.85H378.42M376.02 151.45H378.42" stroke="#1f77b4" stroke-width="1.1" fill="none"/>
<circle cx="377.22" cy="148.15" r="1.3" fill="#1f77b4"/>
<text x="388.02" y="149.95" font-size="6.5" text-anchor="start" fill="#262626" textLength="35.51" lengthAdjust="spacingAndGlyphs" >small-scale,</text>
<text x="425.42" y="149.95" font-size="6.5" fill="#262626" font-style="italic" textLength="5.04" lengthAdjust="spacingAndGlyphs">S</text>
<text x="430.14" y="150.95" font-size="4.03" fill="#262626" font-style="italic">w</text>
<text x="435.45" y="149.95" font-size="6.5" text-anchor="start" fill="#262626" textLength="101.65" lengthAdjust="spacingAndGlyphs" >= 0.1948 ± 0.0031 (ocn vort &gt; 0)</text>
<path d="M377.22 155.3V161.9M376.02 155.3H378.42M376.02 161.9H378.42" stroke="#ffa500" stroke-width="1.1" fill="none"/>
<circle cx="377.22" cy="158.6" r="1.3" fill="#ffa500"/>
<text x="388.02" y="160.4" font-size="6.5" text-anchor="start" fill="#262626" textLength="34.8" lengthAdjust="spacingAndGlyphs" >large-scale,</text>
<text x="424.72" y="160.4" font-size="6.5" fill="#262626" font-style="italic" textLength="5.04" lengthAdjust="spacingAndGlyphs">S</text>
<text x="429.44" y="161.4" font-size="4.03" fill="#262626" font-style="italic">w</text>
<text x="434.75" y="160.4" font-size="6.5" text-anchor="start" fill="#262626" textLength="101.59" lengthAdjust="spacingAndGlyphs" >= 0.2664 ± 0.0048 (ocn vort &lt; 0)</text>
<path d="M377.22 165.75V172.35M376.02 165.75H378.42M376.02 172.35H378.42" stroke="#ffa500" stroke-width="1.1" fill="none"/>
<circle cx="377.22" cy="169.05" r="1.3" fill="#ffa500"/>
<text x="388.02" y="170.85" font-size="6.5" text-anchor="start" fill="#262626" textLength="34.8" lengthAdjust="spacingAndGlyphs" >large-scale,</text>
<text x="424.72" y="170.85" font-size="6.5" fill="#262626" font-style="italic" textLength="5.04" lengthAdjust="spacingAndGlyphs">S</text>
<text x="429.44" y="171.85" font-size="4.03" fill="#262626" font-style="italic">w</text>
<text x="434.75" y="170.85" font-size="6.5" text-anchor="start" fill="#262626" textLength="101.54" lengthAdjust="spacingAndGlyphs" >= 0.4346 ± 0.0031 (ocn vort &gt; 0)</text>
<clipPath id="c3"><rect x="42" y="218.9" width="229.3" height="163.5"/></clipPath>
<path d="M52.6 218.9V382.4M78.6 218.9V382.4M104.6 218.9V382.4M130.6 218.9V382.4M156.6 218.9V382.4M182.6 218.9V382.4M208.6 218.9V382.4M234.6 218.9V382.4M260.6 218.9V382.4M42 218.9H271.3M42 239.34H271.3M42 259.77H271.3M42 280.21H271.3M42 300.65H271.3M42 321.09H271.3M42 341.52H271.3M42 361.96H271.3M42 382.4H271.3" stroke="#b0b0b0" stroke-width="0.5" fill="none"/>
<g clip-path="url(#c3)">
<path d="M54.71 288.8V302.37M58.94 288.8V302.37M63.16 284.3V298.03M67.39 289.7V302.45M71.61 286.34V298.93M75.84 296.64V308.91M80.06 291.58V303.18M84.29 295.58V307.35M88.51 292.47V303.59M92.74 299.18V309.64M96.96 296.15V306.78M101.19 291.17V300.98M105.41 292.31V301.47M109.64 292.64V302.12M113.86 295.34V304.66M118.09 296.89V305.23M122.31 297.71V306.7M126.54 296.4V304.74M130.76 296.4V304.74M134.99 295.25V303.59M139.21 294.44V303.43M143.44 293.78V301.96M147.66 294.27V302.45M151.89 296.32V303.67" stroke="#1f77b4" stroke-width="1.0" fill="none"/>
<path d="M53.51 288.8H55.91M53.51 302.37H55.91M57.74 288.8H60.14M57.74 302.37H60.14M61.96 284.3H64.36M61.96 298.03H64.36M66.19 289.7H68.59M66.19 302.45H68.59M70.41 286.34H72.81M70.41 298.93H72.81M74.64 296.64H77.04M74.64 308.91H77.04M78.86 291.58H81.26M78.86 303.18H81.26M83.09 295.58H85.49M83.09 307.35H85.49M87.31 292.47H89.71M87.31 303.59H89.71M91.54 299.18H93.94M91.54 309.64H93.94M95.76 296.15H98.16M95.76 306.78H98.16M99.99 291.17H102.39M99.99 300.98H102.39M104.21 292.31H106.61M104.21 301.47H106.61M108.44 292.64H110.84M108.44 302.12H110.84M112.66 295.34H115.06M112.66 304.66H115.06M116.89 296.89H119.29M116.89 305.23H119.29M121.11 297.71H123.51M121.11 306.7H123.51M125.34 296.4H127.74M125.34 304.74H127.74M129.56 296.4H131.96M129.56 304.74H131.96M133.79 295.25H136.19M133.79 303.59H136.19M138.01 294.44H140.41M138.01 303.43H140.41M142.24 293.78H144.64M142.24 301.96H144.64M146.46 294.27H148.86M146.46 302.45H148.86M150.69 296.32H153.09M150.69 303.67H153.09" stroke="#1f77b4" stroke-width="0.8" fill="none"/>
<path d="M54.71 295.58h0M58.94 295.58h0M63.16 291.17h0M67.39 296.07h0M71.61 292.64h0M75.84 302.78h0M80.06 297.38h0M84.29 301.47h0M88.51 298.03h0M92.74 304.41h0M96.96 301.47h0M101.19 296.07h0M105.41 296.89h0M109.64 297.38h0M113.86 300h0M118.09 301.06h0M122.31 302.2h0M126.54 300.57h0M130.76 300.57h0M134.99 299.42h0M139.21 298.93h0M143.44 297.87h0M147.66 298.36h0M151.89 300h0" stroke="#1f77b4" stroke-width="2.3" stroke-linecap="round" fill="none"/>
<path d="M52.6 295.61L154 300.52" stroke="#1f77b4" stroke-width="1.4" fill="none"/>
<path d="M161.31 297.61V303.31M165.54 299.77V305.16M169.76 300.38V305.61M173.99 299.8V305.04M178.21 299.16V304.61M182.44 297.81V304.01M186.66 298.5V304.23M190.89 297.8V303.49M195.11 296.02V301.42M199.34 297.64V303.04M203.56 298.09V303.53M207.79 297.52V303.29M212.01 298.78V305.38M216.24 301.09V308.52M220.46 301.39V309.56M224.69 299.28V307.45M228.91 305.25V313.12M233.14 304.4V312.51M237.36 304.1V311.49M241.59 298.2V306.32M245.81 302.23V310.69M250.04 300.21V309.18M254.26 298.64V306.84M258.49 304.26V314.72" stroke="#1f77b4" stroke-width="1.0" fill="none"/>
<path d="M160.11 297.61H162.51M160.11 303.31H162.51M164.34 299.77H166.74M164.34 305.16H166.74M168.56 300.38H170.96M168.56 305.61H170.96M172.79 299.8H175.19M172.79 305.04H175.19M177.01 299.16H179.41M177.01 304.61H179.41M181.24 297.81H183.64M181.24 304.01H183.64M185.46 298.5H187.86M185.46 304.23H187.86M189.69 297.8H192.09M189.69 303.49H192.09M193.91 296.02H196.31M193.91 301.42H196.31M198.14 297.64H200.54M198.14 303.04H200.54M202.36 298.09H204.76M202.36 303.53H204.76M206.59 297.52H208.99M206.59 303.29H208.99M210.81 298.78H213.21M210.81 305.38H213.21M215.04 301.09H217.44M215.04 308.52H217.44M219.26 301.39H221.66M219.26 309.56H221.66M223.49 299.28H225.89M223.49 307.45H225.89M227.71 305.25H230.11M227.71 313.12H230.11M231.94 304.4H234.34M231.94 312.51H234.34M236.16 304.1H238.56M236.16 311.49H238.56M240.39 298.2H242.79M240.39 306.32H242.79M244.61 302.23H247.01M244.61 310.69H247.01M248.84 300.21H251.24M248.84 309.18H251.24M253.06 298.64H255.46M253.06 306.84H255.46M257.29 304.26H259.69M257.29 314.72H259.69" stroke="#1f77b4" stroke-width="0.8" fill="none"/>
<path d="M161.31 300.46h0M165.54 302.46h0M169.76 303h0M173.99 302.42h0M178.21 301.89h0M182.44 300.91h0M186.66 301.37h0M190.89 300.64h0M195.11 298.72h0M199.34 300.34h0M203.56 300.81h0M207.79 300.41h0M212.01 302.08h0M216.24 304.8h0M220.46 305.47h0M224.69 303.36h0M228.91 309.18h0M233.14 308.46h0M237.36 307.79h0M241.59 302.26h0M245.81 306.46h0M250.04 304.69h0M254.26 302.74h0M258.49 309.49h0" stroke="#1f77b4" stroke-width="2.3" stroke-linecap="round" fill="none"/>
<path d="M159.2 299.6L260.6 306.32" stroke="#1f77b4" stroke-width="1.4" fill="none"/>
<path d="M54.71 349.37V377.17M58.94 357.63V384.61M63.16 359.59V386.57M67.39 355.83V381.17M71.61 354.36V378.88M75.84 357.47V381.17M80.06 358.04V380.6M84.29 358.04V378.97M88.51 357.71V377.66M92.74 353.95V374.88M96.96 350.11V370.06M101.19 346.18V365.8M105.41 343.98V363.6M109.64 341.61V360.08M113.86 337.6V355.26M118.09 333.76V350.93M122.31 330.9V348.06M126.54 327.06V342.91M130.76 322.72V339.07M134.99 320.84V336.05M139.21 318.63V333.35M143.44 315.36V330.9M147.66 313.73V328.44M151.89 310.87V324.77" stroke="#ffa500" stroke-width="1.0" fill="none"/>
<path d="M53.51 349.37H55.91M53.51 377.17H55.91M57.74 357.63H60.14M57.74 384.61H60.14M61.96 359.59H64.36M61.96 386.57H64.36M66.19 355.83H68.59M66.19 381.17H68.59M70.41 354.36H72.81M70.41 378.88H72.81M74.64 357.47H77.04M74.64 381.17H77.04M78.86 358.04H81.26M78.86 380.6H81.26M83.09 358.04H85.49M83.09 378.97H85.49M87.31 357.71H89.71M87.31 377.66H89.71M91.54 353.95H93.94M91.54 374.88H93.94M95.76 350.11H98.16M95.76 370.06H98.16M99.99 346.18H102.39M99.99 365.8H102.39M104.21 343.98H106.61M104.21 363.6H106.61M108.44 341.61H110.84M108.44 360.08H110.84M112.66 337.6H115.06M112.66 355.26H115.06M116.89 333.76H119.29M116.89 350.93H119.29M121.11 330.9H123.51M121.11 348.06H123.51M125.34 327.06H127.74M125.34 342.91H127.74M129.56 322.72H131.96M129.56 339.07H131.96M133.79 320.84H136.19M133.79 336.05H136.19M138.01 318.63H140.41M138.01 333.35H140.41M142.24 315.36H144.64M142.24 330.9H144.64M146.46 313.73H148.86M146.46 328.44H148.86M150.69 310.87H153.09M150.69 324.77H153.09" stroke="#ffa500" stroke-width="0.8" fill="none"/>
<path d="M54.71 363.27h0M58.94 371.12h0M63.16 373.08h0M67.39 368.5h0M71.61 366.62h0M75.84 369.32h0M80.06 369.32h0M84.29 368.5h0M88.51 367.68h0M92.74 364.41h0M96.96 360.08h0M101.19 355.99h0M105.41 353.79h0M109.64 350.84h0M113.86 346.43h0M118.09 342.34h0M122.31 339.48h0M126.54 334.98h0M130.76 330.9h0M134.99 328.44h0M139.21 325.99h0M143.44 323.13h0M147.66 321.09h0M151.89 317.82h0" stroke="#ffa500" stroke-width="2.3" stroke-linecap="round" fill="none"/>
<path d="M52.6 380.42L154 321.22" stroke="#ffa500" stroke-width="1.4" fill="none"/>
<path d="M161.31 309.54V319.52M165.54 310.48V322.68M169.76 311.2V321.01M173.99 311.17V321.03M178.21 310.59V321.32M182.44 307.82V319.94M186.66 306.77V319.85M190.89 304.7V317.69M195.11 305.04V317.35M199.34 304.67V317.75M203.56 305.13V318.1M207.79 305.13V317.52M212.01 306.41V321.24M216.24 309.35V325.63M220.46 312.58V328.12M224.69 314.69V330.23M228.91 313.51V329.97M233.14 313.05V330.9M237.36 316.35V332.76M241.59 314.28V332.16M245.81 317.41V336.85M250.04 315V335.42M254.26 316.95V336.59M258.49 325.4V345.02" stroke="#ffa500" stroke-width="1.0" fill="none"/>
<path d="M160.11 309.54H162.51M160.11 319.52H162.51M164.34 310.48H166.74M164.34 322.68H166.74M168.56 311.2H170.96M168.56 321.01H170.96M172.79 311.17H175.19M172.79 321.03H175.19M177.01 310.59H179.41M177.01 321.32H179.41M181.24 307.82H183.64M181.24 319.94H183.64M185.46 306.77H187.86M185.46 319.85H187.86M189.69 304.7H192.09M189.69 317.69H192.09M193.91 305.04H196.31M193.91 317.35H196.31M198.14 304.67H200.54M198.14 317.75H200.54M202.36 305.13H204.76M202.36 318.1H204.76M206.59 305.13H208.99M206.59 317.52H208.99M210.81 306.41H213.21M210.81 321.24H213.21M215.04 309.35H217.44M215.04 325.63H217.44M219.26 312.58H221.66M219.26 328.12H221.66M223.49 314.69H225.89M223.49 330.23H225.89M227.71 313.51H230.11M227.71 329.97H230.11M231.94 313.05H234.34M231.94 330.9H234.34M236.16 316.35H238.56M236.16 332.76H238.56M240.39 314.28H242.79M240.39 332.16H242.79M244.61 317.41H247.01M244.61 336.85H247.01M248.84 315H251.24M248.84 335.42H251.24M253.06 316.95H255.46M253.06 336.59H255.46M257.29 325.4H259.69M257.29 345.02H259.69" stroke="#ffa500" stroke-width="0.8" fill="none"/>
<path d="M161.31 314.53h0M165.54 316.58h0M169.76 316.1h0M173.99 316.1h0M178.21 315.95h0M182.44 313.88h0M186.66 313.31h0M190.89 311.2h0M195.11 311.2h0M199.34 311.21h0M203.56 311.61h0M207.79 311.33h0M212.01 313.83h0M216.24 317.49h0M220.46 320.35h0M224.69 322.46h0M228.91 321.74h0M233.14 321.97h0M237.36 324.55h0M241.59 323.22h0M245.81 327.13h0M250.04 325.21h0M254.26 326.77h0M258.49 335.21h0" stroke="#ffa500" stroke-width="2.3" stroke-linecap="round" fill="none"/>
<path d="M159.2 309.69L260.6 327.28" stroke="#ffa500" stroke-width="1.4" fill="none"/>
</g>
<rect x="42" y="218.9" width="229.3" height="163.5" fill="none" stroke="#000" stroke-width="0.65"/>
<path d="M52.6 382.4v2.1M78.6 382.4v2.1M104.6 382.4v2.1M130.6 382.4v2.1M156.6 382.4v2.1M182.6 382.4v2.1M208.6 382.4v2.1M234.6 382.4v2.1M260.6 382.4v2.1M42 218.9h-2.1M42 239.34h-2.1M42 259.77h-2.1M42 280.21h-2.1M42 300.65h-2.1M42 321.09h-2.1M42 341.52h-2.1M42 361.96h-2.1M42 382.4h-2.1" stroke="#000" stroke-width="0.8" fill="none"/>
<text x="52.7" y="392.4" font-size="6.6" text-anchor="middle" fill="#262626" textLength="7.51" lengthAdjust="spacingAndGlyphs" >−4</text>
<text x="78.7" y="392.4" font-size="6.6" text-anchor="middle" fill="#262626" textLength="7.51" lengthAdjust="spacingAndGlyphs" >−3</text>
<text x="104.7" y="392.4" font-size="6.6" text-anchor="middle" fill="#262626" textLength="7.51" lengthAdjust="spacingAndGlyphs" >−2</text>
<text x="130.7" y="392.4" font-size="6.6" text-anchor="middle" fill="#262626" textLength="7.51" lengthAdjust="spacingAndGlyphs" >−1</text>
<text x="156.6" y="392.4" font-size="6.6" text-anchor="middle" fill="#262626" textLength="3.6" lengthAdjust="spacingAndGlyphs" >0</text>
<text x="182.6" y="392.4" font-size="6.6" text-anchor="middle" fill="#262626" textLength="3.6" lengthAdjust="spacingAndGlyphs" >1</text>
<text x="208.6" y="392.4" font-size="6.6" text-anchor="middle" fill="#262626" textLength="3.6" lengthAdjust="spacingAndGlyphs" >2</text>
<text x="234.6" y="392.4" font-size="6.6" text-anchor="middle" fill="#262626" textLength="3.6" lengthAdjust="spacingAndGlyphs" >3</text>
<text x="260.6" y="392.4" font-size="6.6" text-anchor="middle" fill="#262626" textLength="3.6" lengthAdjust="spacingAndGlyphs" >4</text>
<text x="37.1" y="221.6" font-size="6.6" text-anchor="end" fill="#262626" textLength="12.6" lengthAdjust="spacingAndGlyphs" >1.00</text>
<text x="37.1" y="242.04" font-size="6.6" text-anchor="end" fill="#262626" textLength="12.6" lengthAdjust="spacingAndGlyphs" >0.75</text>
<text x="37.1" y="262.47" font-size="6.6" text-anchor="end" fill="#262626" textLength="12.6" lengthAdjust="spacingAndGlyphs" >0.50</text>
<text x="37.1" y="282.91" font-size="6.6" text-anchor="end" fill="#262626" textLength="12.6" lengthAdjust="spacingAndGlyphs" >0.25</text>
<text x="37.1" y="303.35" font-size="6.6" text-anchor="end" fill="#262626" textLength="12.6" lengthAdjust="spacingAndGlyphs" >0.00</text>
<text x="37.1" y="323.79" font-size="6.6" text-anchor="end" fill="#262626" textLength="17.35" lengthAdjust="spacingAndGlyphs" >−0.25</text>
<text x="37.1" y="344.22" font-size="6.6" text-anchor="end" fill="#262626" textLength="17.35" lengthAdjust="spacingAndGlyphs" >−0.50</text>
<text x="37.1" y="364.66" font-size="6.6" text-anchor="end" fill="#262626" textLength="17.35" lengthAdjust="spacingAndGlyphs" >−0.75</text>
<text x="37.1" y="385.1" font-size="6.6" text-anchor="end" fill="#262626" textLength="17.35" lengthAdjust="spacingAndGlyphs" >−1.00</text>
<text x="40.8" y="215.9" font-size="6.0" text-anchor="start" fill="#262626" textLength="19.5" lengthAdjust="spacingAndGlyphs" >1×10<tspan font-size="50%" dy="-2.3">−5</tspan></text>
<text x="272.6" y="399.4" font-size="6.0" text-anchor="end" fill="#262626" textLength="19.5" lengthAdjust="spacingAndGlyphs" >1×10<tspan font-size="50%" dy="-2.3">−5</tspan></text>
<text x="156.35" y="214.9" font-size="7.6" text-anchor="middle" fill="#262626" textLength="92.3" lengthAdjust="spacingAndGlyphs" >Daily Winter-season a2o2</text>
<text x="156.6" y="398.9" font-size="6.8" text-anchor="middle" fill="#262626" textLength="63.5" lengthAdjust="spacingAndGlyphs" >Ocean Vorticity (s<tspan font-size="62%" dy="-2.8"> −1</tspan><tspan dy="2.8">)</tspan></text>
<text x="12.5" y="301.5" font-size="6.8" text-anchor="middle" fill="#262626" textLength="68" lengthAdjust="spacingAndGlyphs" transform="rotate(-90 12.5 301.5)" >Wind Divergence (s<tspan font-size="62%" dy="-2.8"> −1</tspan><tspan dy="2.8">)</tspan></text>
<rect x="95.62" y="221.9" width="172.68" height="45" rx="1.2" fill="#fff" fill-opacity="0.8" stroke="#cccccc" stroke-width="0.5"/>
<path d="M104.02 225.3V231.9M102.82 225.3H105.22M102.82 231.9H105.22" stroke="#1f77b4" stroke-width="1.1" fill="none"/>
<circle cx="104.02" cy="228.6" r="1.3" fill="#1f77b4"/>
<text x="114.82" y="230.4" font-size="6.5" text-anchor="start" fill="#262626" textLength="35.51" lengthAdjust="spacingAndGlyphs" >small-scale,</text>
<text x="152.22" y="230.4" font-size="6.5" fill="#262626" font-style="italic" textLength="5.04" lengthAdjust="spacingAndGlyphs">S</text>
<text x="156.94" y="231.4" font-size="4.03" fill="#262626" font-style="italic">d</text>
<text x="162.25" y="230.4" font-size="6.5" text-anchor="start" fill="#262626" textLength="103.65" lengthAdjust="spacingAndGlyphs" >= -0.0154 ± 0.0063 (ocn vort &lt; 0)</text>
<path d="M104.02 235.75V242.35M102.82 235.75H105.22M102.82 242.35H105.22" stroke="#1f77b4" stroke-width="1.1" fill="none"/>
<circle cx="104.02" cy="239.05" r="1.3" fill="#1f77b4"/>
<text x="114.82" y="240.85" font-size="6.5" text-anchor="start" fill="#262626" textLength="35.51" lengthAdjust="spacingAndGlyphs" >small-scale,</text>
<text x="152.22" y="240.85" font-size="6.5" fill="#262626" font-style="italic" textLength="5.04" lengthAdjust="spacingAndGlyphs">S</text>
<text x="156.94" y="241.85" font-size="4.03" fill="#262626" font-style="italic">d</text>
<text x="162.25" y="240.85" font-size="6.5" text-anchor="start" fill="#262626" textLength="103.65" lengthAdjust="spacingAndGlyphs" >= -0.0211 ± 0.0055 (ocn vort &gt; 0)</text>
<path d="M104.02 246.2V252.8M102.82 246.2H105.22M102.82 252.8H105.22" stroke="#ffa500" stroke-width="1.1" fill="none"/>
<circle cx="104.02" cy="249.5" r="1.3" fill="#ffa500"/>
<text x="114.82" y="251.3" font-size="6.5" text-anchor="start" fill="#262626" textLength="34.8" lengthAdjust="spacingAndGlyphs" >large-scale,</text>
<text x="151.52" y="251.3" font-size="6.5" fill="#262626" font-style="italic" textLength="5.04" lengthAdjust="spacingAndGlyphs">S</text>
<text x="156.24" y="252.3" font-size="4.03" fill="#262626" font-style="italic">d</text>
<text x="161.55" y="251.3" font-size="6.5" text-anchor="start" fill="#262626" textLength="101.59" lengthAdjust="spacingAndGlyphs" >= 0.1857 ± 0.0124 (ocn vort &lt; 0)</text>
<path d="M104.02 256.65V263.25M102.82 256.65H105.22M102.82 263.25H105.22" stroke="#ffa500" stroke-width="1.1" fill="none"/>
<circle cx="104.02" cy="259.95" r="1.3" fill="#ffa500"/>
<text x="114.82" y="261.75" font-size="6.5" text-anchor="start" fill="#262626" textLength="34.8" lengthAdjust="spacingAndGlyphs" >large-scale,</text>
<text x="151.52" y="261.75" font-size="6.5" fill="#262626" font-style="italic" textLength="5.04" lengthAdjust="spacingAndGlyphs">S</text>
<text x="156.24" y="262.75" font-size="4.03" fill="#262626" font-style="italic">d</text>
<text x="161.55" y="261.75" font-size="6.5" text-anchor="start" fill="#262626" textLength="103.6" lengthAdjust="spacingAndGlyphs" >= -0.0552 ± 0.0093 (ocn vort &gt; 0)</text>
<clipPath id="c4"><rect x="313.6" y="218.9" width="229.1" height="163.5"/></clipPath>
<path d="M324.01 218.9V382.4M350.02 218.9V382.4M376.03 218.9V382.4M402.04 218.9V382.4M428.05 218.9V382.4M454.06 218.9V382.4M480.07 218.9V382.4M506.08 218.9V382.4M532.09 218.9V382.4M313.6 218.9H542.7M313.6 239.34H542.7M313.6 259.77H542.7M313.6 280.21H542.7M313.6 300.65H542.7M313.6 321.09H542.7M313.6 341.52H542.7M313.6 361.96H542.7M313.6 382.4H542.7" stroke="#b0b0b0" stroke-width="0.5" fill="none"/>
<g clip-path="url(#c4)">
<path d="M326.12 283.32V294.76M330.35 284.55V294.85M334.58 281.28V291.58M338.8 285.12V295.42M343.03 289.37V299.67M347.26 292.47V302.28M351.48 287.24V296.56M355.71 286.51V295.17M359.94 290.84V299.51M364.16 284.95V293.13M368.39 289.29V296.81M372.62 291.41V298.93M376.84 292.23V299.26M381.07 288.96V295.99M385.3 292.23V299.26M389.52 291.74V298.61M393.75 295.17V301.71M397.98 291.9V298.44M402.2 291.41V297.95M406.43 293.78V300M410.66 292.72V298.77M414.88 294.52V300.24M419.11 294.52V300.24M423.34 296.24V301.79" stroke="#1f77b4" stroke-width="1.0" fill="none"/>
<path d="M324.92 283.32H327.32M324.92 294.76H327.32M329.15 284.55H331.55M329.15 294.85H331.55M333.38 281.28H335.78M333.38 291.58H335.78M337.6 285.12H340M337.6 295.42H340M341.83 289.37H344.23M341.83 299.67H344.23M346.06 292.47H348.46M346.06 302.28H348.46M350.28 287.24H352.68M350.28 296.56H352.68M354.51 286.51H356.91M354.51 295.17H356.91M358.74 290.84H361.14M358.74 299.51H361.14M362.96 284.95H365.36M362.96 293.13H365.36M367.19 289.29H369.59M367.19 296.81H369.59M371.42 291.41H373.82M371.42 298.93H373.82M375.64 292.23H378.04M375.64 299.26H378.04M379.87 288.96H382.27M379.87 295.99H382.27M384.1 292.23H386.5M384.1 299.26H386.5M388.32 291.74H390.72M388.32 298.61H390.72M392.55 295.17H394.95M392.55 301.71H394.95M396.78 291.9H399.18M396.78 298.44H399.18M401 291.41H403.4M401 297.95H403.4M405.23 293.78H407.63M405.23 300H407.63M409.46 292.72H411.86M409.46 298.77H411.86M413.68 294.52H416.08M413.68 300.24H416.08M417.91 294.52H420.31M417.91 300.24H420.31M422.14 296.24H424.54M422.14 301.79H424.54" stroke="#1f77b4" stroke-width="0.8" fill="none"/>
<path d="M326.12 289.04h0M330.35 289.7h0M334.58 286.43h0M338.8 290.27h0M343.03 294.52h0M347.26 297.38h0M351.48 291.9h0M355.71 290.84h0M359.94 295.17h0M364.16 289.04h0M368.39 293.05h0M372.62 295.17h0M376.84 295.75h0M381.07 292.47h0M385.3 295.75h0M389.52 295.17h0M393.75 298.44h0M397.98 295.17h0M402.2 294.68h0M406.43 296.89h0M410.66 295.75h0M414.88 297.38h0M419.11 297.38h0M423.34 299.01h0" stroke="#1f77b4" stroke-width="2.3" stroke-linecap="round" fill="none"/>
<path d="M324.01 289.03L425.45 298.21" stroke="#1f77b4" stroke-width="1.4" fill="none"/>
<path d="M432.76 299.04V304.01M436.99 300.31V305.71M441.22 300.81V306.21M445.44 301.13V306.53M449.67 300.73V306.13M453.9 300.97V306.37M458.12 302.37V307.76M462.35 302.16V307.59M466.58 300.9V306.62M470.8 303.38V309.11M475.03 304.86V310.58M479.26 304.07V309.83M483.48 308.25V314.79M487.71 307.54V314.08M491.94 308.24V314.78M496.16 308.21V314.75M500.39 307.52V314.06M504.62 308.43V315.04M508.84 309.99V317.39M513.07 306.89V314.73M517.3 312.62V319.98M521.52 307.54V315.35M525.75 315.59V322.96M529.98 316.18V322.73" stroke="#1f77b4" stroke-width="1.0" fill="none"/>
<path d="M431.56 299.04H433.96M431.56 304.01H433.96M435.79 300.31H438.19M435.79 305.71H438.19M440.02 300.81H442.42M440.02 306.21H442.42M444.24 301.13H446.64M444.24 306.53H446.64M448.47 300.73H450.87M448.47 306.13H450.87M452.7 300.97H455.1M452.7 306.37H455.1M456.92 302.37H459.32M456.92 307.76H459.32M461.15 302.16H463.55M461.15 307.59H463.55M465.38 300.9H467.78M465.38 306.62H467.78M469.6 303.38H472M469.6 309.11H472M473.83 304.86H476.23M473.83 310.58H476.23M478.06 304.07H480.46M478.06 309.83H480.46M482.28 308.25H484.68M482.28 314.79H484.68M486.51 307.54H488.91M486.51 314.08H488.91M490.74 308.24H493.14M490.74 314.78H493.14M494.96 308.21H497.36M494.96 314.75H497.36M499.19 307.52H501.59M499.19 314.06H501.59M503.42 308.43H505.82M503.42 315.04H505.82M507.64 309.99H510.04M507.64 317.39H510.04M511.87 306.89H514.27M511.87 314.73H514.27M516.1 312.62H518.5M516.1 319.98H518.5M520.32 307.54H522.72M520.32 315.35H522.72M524.55 315.59H526.95M524.55 322.96H526.95M528.78 316.18H531.18M528.78 322.73H531.18" stroke="#1f77b4" stroke-width="0.8" fill="none"/>
<path d="M432.76 301.52h0M436.99 303.01h0M441.22 303.51h0M445.44 303.83h0M449.67 303.43h0M453.9 303.67h0M458.12 305.06h0M462.35 304.87h0M466.58 303.76h0M470.8 306.25h0M475.03 307.72h0M479.26 306.95h0M483.48 311.52h0M487.71 310.81h0M491.94 311.51h0M496.16 311.48h0M500.39 310.79h0M504.62 311.73h0M508.84 313.69h0M513.07 310.81h0M517.3 316.3h0M521.52 311.45h0M525.75 319.27h0M529.98 319.45h0" stroke="#1f77b4" stroke-width="2.3" stroke-linecap="round" fill="none"/>
<path d="M430.65 300.26L532.09 317.13" stroke="#1f77b4" stroke-width="1.4" fill="none"/>
<path d="M326.12 360V378.64M330.35 354.69V372.51M334.58 355.75V374.06M338.8 356.32V374.14M343.03 355.1V372.1M347.26 351.83V368.83M351.48 355.1V372.1M355.71 354.93V370.63M359.94 350.19V365.56M364.16 347.17V362.04M368.39 349.78V364.33M372.62 350.11V364.01M376.84 345.69V359.43M381.07 342.42V354.52M385.3 340.87V352.97M389.52 338.34V350.44M393.75 336.29V347.74M397.98 332.29V343.57M402.2 329.18V340.3M406.43 326.16V336.78M410.66 323.38V333.19M414.88 320.11V329.92M419.11 317.74V327.55M423.34 314.47V324.28" stroke="#ffa500" stroke-width="1.0" fill="none"/>
<path d="M324.92 360H327.32M324.92 378.64H327.32M329.15 354.69H331.55M329.15 372.51H331.55M333.38 355.75H335.78M333.38 374.06H335.78M337.6 356.32H340M337.6 374.14H340M341.83 355.1H344.23M341.83 372.1H344.23M346.06 351.83H348.46M346.06 368.83H348.46M350.28 355.1H352.68M350.28 372.1H352.68M354.51 354.93H356.91M354.51 370.63H356.91M358.74 350.19H361.14M358.74 365.56H361.14M362.96 347.17H365.36M362.96 362.04H365.36M367.19 349.78H369.59M367.19 364.33H369.59M371.42 350.11H373.82M371.42 364.01H373.82M375.64 345.69H378.04M375.64 359.43H378.04M379.87 342.42H382.27M379.87 354.52H382.27M384.1 340.87H386.5M384.1 352.97H386.5M388.32 338.34H390.72M388.32 350.44H390.72M392.55 336.29H394.95M392.55 347.74H394.95M396.78 332.29H399.18M396.78 343.57H399.18M401 329.18H403.4M401 340.3H403.4M405.23 326.16H407.63M405.23 336.78H407.63M409.46 323.38H411.86M409.46 333.19H411.86M413.68 320.11H416.08M413.68 329.92H416.08M417.91 317.74H420.31M417.91 327.55H420.31M422.14 314.47H424.54M422.14 324.28H424.54" stroke="#ffa500" stroke-width="0.8" fill="none"/>
<path d="M326.12 369.32h0M330.35 363.6h0M334.58 364.91h0M338.8 365.23h0M343.03 363.6h0M347.26 360.33h0M351.48 363.6h0M355.71 362.78h0M359.94 357.88h0M364.16 354.6h0M368.39 357.06h0M372.62 357.06h0M376.84 352.56h0M381.07 348.47h0M385.3 346.92h0M389.52 344.39h0M393.75 342.02h0M397.98 337.93h0M402.2 334.74h0M406.43 331.47h0M410.66 328.28h0M414.88 325.01h0M419.11 322.64h0M423.34 319.37h0" stroke="#ffa500" stroke-width="2.3" stroke-linecap="round" fill="none"/>
<path d="M324.01 373.95L425.45 323.45" stroke="#ffa500" stroke-width="1.4" fill="none"/>
<path d="M432.76 314.44V324.25M436.99 315.18V324.87M441.22 314.25V323.37M445.44 314.79V324.6M449.67 314.49V324.3M453.9 313.06V322.75M458.12 312.58V321.57M462.35 313.15V322.24M466.58 314.49V324.3M470.8 315.89V325.7M475.03 317.57V327.37M479.26 319.78V329.35M483.48 322.9V334.03M487.71 324.3V337.31M491.94 326.11V338.87M496.16 327.92V340.67M500.39 330.19V342.94M504.62 324.04V336.82M508.84 328.07V341.15M513.07 332.5V345.58M517.3 335V348.1M521.52 336.72V352.74M525.75 335.98V352.01M529.98 338.4V354.42" stroke="#ffa500" stroke-width="1.0" fill="none"/>
<path d="M431.56 314.44H433.96M431.56 324.25H433.96M435.79 315.18H438.19M435.79 324.87H438.19M440.02 314.25H442.42M440.02 323.37H442.42M444.24 314.79H446.64M444.24 324.6H446.64M448.47 314.49H450.87M448.47 324.3H450.87M452.7 313.06H455.1M452.7 322.75H455.1M456.92 312.58H459.32M456.92 321.57H459.32M461.15 313.15H463.55M461.15 322.24H463.55M465.38 314.49H467.78M465.38 324.3H467.78M469.6 315.89H472M469.6 325.7H472M473.83 317.57H476.23M473.83 327.37H476.23M478.06 319.78H480.46M478.06 329.35H480.46M482.28 322.9H484.68M482.28 334.03H484.68M486.51 324.3H488.91M486.51 337.31H488.91M490.74 326.11H493.14M490.74 338.87H493.14M494.96 327.92H497.36M494.96 340.67H497.36M499.19 330.19H501.59M499.19 342.94H501.59M503.42 324.04H505.82M503.42 336.82H505.82M507.64 328.07H510.04M507.64 341.15H510.04M511.87 332.5H514.27M511.87 345.58H514.27M516.1 335H518.5M516.1 348.1H518.5M520.32 336.72H522.72M520.32 352.74H522.72M524.55 335.98H526.95M524.55 352.01H526.95M528.78 338.4H531.18M528.78 354.42H531.18" stroke="#ffa500" stroke-width="0.8" fill="none"/>
<path d="M432.76 319.35h0M436.99 320.03h0M441.22 318.81h0M445.44 319.7h0M449.67 319.4h0M453.9 317.9h0M458.12 317.08h0M462.35 317.69h0M466.58 319.39h0M470.8 320.8h0M475.03 322.47h0M479.26 324.57h0M483.48 328.46h0M487.71 330.81h0M491.94 332.49h0M496.16 334.29h0M500.39 336.57h0M504.62 330.43h0M508.84 334.61h0M513.07 339.04h0M517.3 341.55h0M521.52 344.73h0M525.75 343.99h0M529.98 346.41h0" stroke="#ffa500" stroke-width="2.3" stroke-linecap="round" fill="none"/>
<path d="M430.65 311.91L532.09 343.13" stroke="#ffa500" stroke-width="1.4" fill="none"/>
</g>
<rect x="313.6" y="218.9" width="229.1" height="163.5" fill="none" stroke="#000" stroke-width="0.65"/>
<path d="M324.01 382.4v2.1M350.02 382.4v2.1M376.03 382.4v2.1M402.04 382.4v2.1M428.05 382.4v2.1M454.06 382.4v2.1M480.07 382.4v2.1M506.08 382.4v2.1M532.09 382.4v2.1M313.6 218.9h-2.1M313.6 239.34h-2.1M313.6 259.77h-2.1M313.6 280.21h-2.1M313.6 300.65h-2.1M313.6 321.09h-2.1M313.6 341.52h-2.1M313.6 361.96h-2.1M313.6 382.4h-2.1" stroke="#000" stroke-width="0.8" fill="none"/>
<text x="324.11" y="392.4" font-size="6.6" text-anchor="middle" fill="#262626" textLength="7.51" lengthAdjust="spacingAndGlyphs" >−4</text>
<text x="350.12" y="392.4" font-size="6.6" text-anchor="middle" fill="#262626" textLength="7.51" lengthAdjust="spacingAndGlyphs" >−3</text>
<text x="376.13" y="392.4" font-size="6.6" text-anchor="middle" fill="#262626" textLength="7.51" lengthAdjust="spacingAndGlyphs" >−2</text>
<text x="402.14" y="392.4" font-size="6.6" text-anchor="middle" fill="#262626" textLength="7.51" lengthAdjust="spacingAndGlyphs" >−1</text>
<text x="428.05" y="392.4" font-size="6.6" text-anchor="middle" fill="#262626" textLength="3.6" lengthAdjust="spacingAndGlyphs" >0</text>
<text x="454.06" y="392.4" font-size="6.6" text-anchor="middle" fill="#262626" textLength="3.6" lengthAdjust="spacingAndGlyphs" >1</text>
<text x="480.07" y="392.4" font-size="6.6" text-anchor="middle" fill="#262626" textLength="3.6" lengthAdjust="spacingAndGlyphs" >2</text>
<text x="506.08" y="392.4" font-size="6.6" text-anchor="middle" fill="#262626" textLength="3.6" lengthAdjust="spacingAndGlyphs" >3</text>
<text x="532.09" y="392.4" font-size="6.6" text-anchor="middle" fill="#262626" textLength="3.6" lengthAdjust="spacingAndGlyphs" >4</text>
<text x="308.7" y="221.6" font-size="6.6" text-anchor="end" fill="#262626" textLength="12.6" lengthAdjust="spacingAndGlyphs" >1.00</text>
<text x="308.7" y="242.04" font-size="6.6" text-anchor="end" fill="#262626" textLength="12.6" lengthAdjust="spacingAndGlyphs" >0.75</text>
<text x="308.7" y="262.47" font-size="6.6" text-anchor="end" fill="#262626" textLength="12.6" lengthAdjust="spacingAndGlyphs" >0.50</text>
<text x="308.7" y="282.91" font-size="6.6" text-anchor="end" fill="#262626" textLength="12.6" lengthAdjust="spacingAndGlyphs" >0.25</text>
<text x="308.7" y="303.35" font-size="6.6" text-anchor="end" fill="#262626" textLength="12.6" lengthAdjust="spacingAndGlyphs" >0.00</text>
<text x="308.7" y="323.79" font-size="6.6" text-anchor="end" fill="#262626" textLength="17.35" lengthAdjust="spacingAndGlyphs" >−0.25</text>
<text x="308.7" y="344.22" font-size="6.6" text-anchor="end" fill="#262626" textLength="17.35" lengthAdjust="spacingAndGlyphs" >−0.50</text>
<text x="308.7" y="364.66" font-size="6.6" text-anchor="end" fill="#262626" textLength="17.35" lengthAdjust="spacingAndGlyphs" >−0.75</text>
<text x="308.7" y="385.1" font-size="6.6" text-anchor="end" fill="#262626" textLength="17.35" lengthAdjust="spacingAndGlyphs" >−1.00</text>
<text x="311.1" y="215.9" font-size="6.0" text-anchor="start" fill="#262626" textLength="19.5" lengthAdjust="spacingAndGlyphs" >1×10<tspan font-size="50%" dy="-2.3">−5</tspan></text>
<text x="544" y="399.4" font-size="6.0" text-anchor="end" fill="#262626" textLength="19.5" lengthAdjust="spacingAndGlyphs" >1×10<tspan font-size="50%" dy="-2.3">−5</tspan></text>
<text x="427.95" y="214.9" font-size="7.6" text-anchor="middle" fill="#262626" textLength="106.5" lengthAdjust="spacingAndGlyphs" >Daily Winter-season a2o2-cfb</text>
<text x="428" y="398.9" font-size="6.8" text-anchor="middle" fill="#262626" textLength="63.5" lengthAdjust="spacingAndGlyphs" >Ocean Vorticity (s<tspan font-size="62%" dy="-2.8"> −1</tspan><tspan dy="2.8">)</tspan></text>
<text x="284.5" y="301" font-size="6.8" text-anchor="middle" fill="#262626" textLength="68" lengthAdjust="spacingAndGlyphs" transform="rotate(-90 284.5 301)" >Wind Divergence (s<tspan font-size="62%" dy="-2.8"> −1</tspan><tspan dy="2.8">)</tspan></text>
<rect x="366.96" y="221.9" width="172.74" height="45" rx="1.2" fill="#fff" fill-opacity="0.8" stroke="#cccccc" stroke-width="0.5"/>
<path d="M375.36 225.3V231.9M374.16 225.3H376.56M374.16 231.9H376.56" stroke="#1f77b4" stroke-width="1.1" fill="none"/>
<circle cx="375.36" cy="228.6" r="1.3" fill="#1f77b4"/>
<text x="386.16" y="230.4" font-size="6.5" text-anchor="start" fill="#262626" textLength="35.51" lengthAdjust="spacingAndGlyphs" >small-scale,</text>
<text x="423.57" y="230.4" font-size="6.5" fill="#262626" font-style="italic" textLength="5.04" lengthAdjust="spacingAndGlyphs">S</text>
<text x="428.28" y="231.4" font-size="4.03" fill="#262626" font-style="italic">d</text>
<text x="433.6" y="230.4" font-size="6.5" text-anchor="start" fill="#262626" textLength="103.7" lengthAdjust="spacingAndGlyphs" >= -0.0288 ± 0.0049 (ocn vort &lt; 0)</text>
<path d="M375.36 235.75V242.35M374.16 235.75H376.56M374.16 242.35H376.56" stroke="#1f77b4" stroke-width="1.1" fill="none"/>
<circle cx="375.36" cy="239.05" r="1.3" fill="#1f77b4"/>
<text x="386.16" y="240.85" font-size="6.5" text-anchor="start" fill="#262626" textLength="35.51" lengthAdjust="spacingAndGlyphs" >small-scale,</text>
<text x="423.57" y="240.85" font-size="6.5" fill="#262626" font-style="italic" textLength="5.04" lengthAdjust="spacingAndGlyphs">S</text>
<text x="428.28" y="241.85" font-size="4.03" fill="#262626" font-style="italic">d</text>
<text x="433.6" y="240.85" font-size="6.5" text-anchor="start" fill="#262626" textLength="103.65" lengthAdjust="spacingAndGlyphs" >= -0.0529 ± 0.0046 (ocn vort &gt; 0)</text>
<path d="M375.36 246.2V252.8M374.16 246.2H376.56M374.16 252.8H376.56" stroke="#ffa500" stroke-width="1.1" fill="none"/>
<circle cx="375.36" cy="249.5" r="1.3" fill="#ffa500"/>
<text x="386.16" y="251.3" font-size="6.5" text-anchor="start" fill="#262626" textLength="34.8" lengthAdjust="spacingAndGlyphs" >large-scale,</text>
<text x="422.86" y="251.3" font-size="6.5" fill="#262626" font-style="italic" textLength="5.04" lengthAdjust="spacingAndGlyphs">S</text>
<text x="427.58" y="252.3" font-size="4.03" fill="#262626" font-style="italic">d</text>
<text x="432.89" y="251.3" font-size="6.5" text-anchor="start" fill="#262626" textLength="101.59" lengthAdjust="spacingAndGlyphs" >= 0.1584 ± 0.0085 (ocn vort &lt; 0)</text>
<path d="M375.36 256.65V263.25M374.16 256.65H376.56M374.16 263.25H376.56" stroke="#ffa500" stroke-width="1.1" fill="none"/>
<circle cx="375.36" cy="259.95" r="1.3" fill="#ffa500"/>
<text x="386.16" y="261.75" font-size="6.5" text-anchor="start" fill="#262626" textLength="34.8" lengthAdjust="spacingAndGlyphs" >large-scale,</text>
<text x="422.86" y="261.75" font-size="6.5" fill="#262626" font-style="italic" textLength="5.04" lengthAdjust="spacingAndGlyphs">S</text>
<text x="427.58" y="262.75" font-size="4.03" fill="#262626" font-style="italic">d</text>
<text x="432.89" y="261.75" font-size="6.5" text-anchor="start" fill="#262626" textLength="103.65" lengthAdjust="spacingAndGlyphs" >= -0.0979 ± 0.0077 (ocn vort &gt; 0)</text>
</g></svg></body></html>
